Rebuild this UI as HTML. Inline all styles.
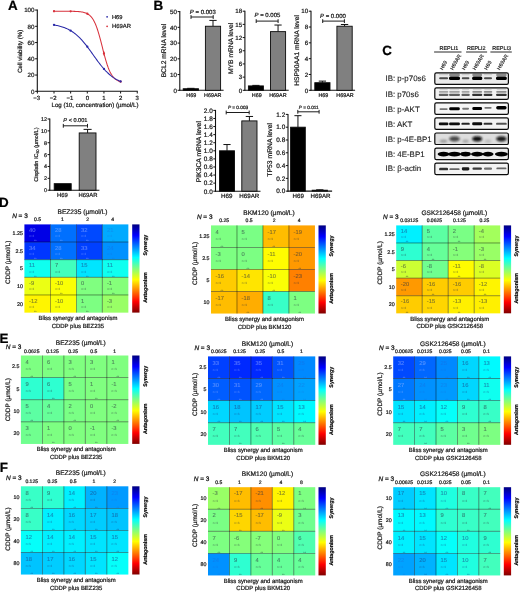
<!DOCTYPE html>
<html lang="en"><head><meta charset="utf-8"><title>Figure</title>
<style>html,body{margin:0;padding:0;background:#fff}svg{display:block;filter:blur(0.35px)}</style>
</head><body>
<svg width="520" height="592" viewBox="0 0 520 592" font-family='"Liberation Sans", sans-serif' fill="#1a1a1a" text-rendering="geometricPrecision">
<defs>
<linearGradient id="jet" x1="0" y1="0" x2="0" y2="1"><stop offset="0.0000" stop-color="#000080"/><stop offset="0.0312" stop-color="#00009f"/><stop offset="0.0625" stop-color="#0000bf"/><stop offset="0.0938" stop-color="#0000df"/><stop offset="0.1250" stop-color="#0000ff"/><stop offset="0.1562" stop-color="#0020ff"/><stop offset="0.1875" stop-color="#0040ff"/><stop offset="0.2188" stop-color="#0060ff"/><stop offset="0.2500" stop-color="#0080ff"/><stop offset="0.2812" stop-color="#009fff"/><stop offset="0.3125" stop-color="#00bfff"/><stop offset="0.3438" stop-color="#00dfff"/><stop offset="0.3750" stop-color="#00ffff"/><stop offset="0.4062" stop-color="#20ffdf"/><stop offset="0.4375" stop-color="#40ffbf"/><stop offset="0.4688" stop-color="#60ff9f"/><stop offset="0.5000" stop-color="#80ff80"/><stop offset="0.5312" stop-color="#9fff60"/><stop offset="0.5625" stop-color="#bfff40"/><stop offset="0.5938" stop-color="#dfff20"/><stop offset="0.6250" stop-color="#ffff00"/><stop offset="0.6562" stop-color="#ffdf00"/><stop offset="0.6875" stop-color="#ffbf00"/><stop offset="0.7188" stop-color="#ff9f00"/><stop offset="0.7500" stop-color="#ff8000"/><stop offset="0.7812" stop-color="#ff6000"/><stop offset="0.8125" stop-color="#ff4000"/><stop offset="0.8438" stop-color="#ff2000"/><stop offset="0.8750" stop-color="#ff0000"/><stop offset="0.9062" stop-color="#df0000"/><stop offset="0.9375" stop-color="#bf0000"/><stop offset="0.9688" stop-color="#9f0000"/><stop offset="1.0000" stop-color="#800000"/></linearGradient>
<filter id="b1" x="-30%" y="-80%" width="160%" height="260%"><feGaussianBlur stdDeviation="0.7 0.45"/></filter>
<filter id="b2" x="-30%" y="-80%" width="160%" height="260%"><feGaussianBlur stdDeviation="1.0 0.8"/></filter>
<filter id="b0" x="-30%" y="-80%" width="160%" height="260%"><feGaussianBlur stdDeviation="0.5 0.3"/></filter>
</defs>
<rect x="0.00" y="0.00" width="520.00" height="592.00" fill="#ffffff" />
<text x="8.00" y="5.50" font-size="13.4" fill="#000" font-weight="bold" dy="4.82" stroke="#000" stroke-width="0.22">A</text>
<text x="153.60" y="5.50" font-size="13.4" fill="#000" font-weight="bold" dy="4.82" stroke="#000" stroke-width="0.22">B</text>
<text x="382.20" y="50.60" font-size="13.4" fill="#000" font-weight="bold" dy="4.82" stroke="#000" stroke-width="0.22">C</text>
<text x="-0.90" y="201.80" font-size="13.4" fill="#000" font-weight="bold" dy="4.82" stroke="#000" stroke-width="0.22">D</text>
<text x="-0.40" y="337.70" font-size="13.4" fill="#000" font-weight="bold" dy="4.82" stroke="#000" stroke-width="0.22">E</text>
<text x="-0.20" y="467.10" font-size="13.4" fill="#000" font-weight="bold" dy="4.82" stroke="#000" stroke-width="0.22">F</text>
<line x1="37.30" y1="9.55" x2="37.30" y2="91.80" stroke="#111" stroke-width="1.1" />
<line x1="36.80" y1="91.30" x2="137.75" y2="91.30" stroke="#111" stroke-width="1.1" />
<line x1="35.10" y1="91.30" x2="37.30" y2="91.30" stroke="#111" stroke-width="1.0" />
<text x="34.50" y="91.30" font-size="6.2" text-anchor="end" dy="2.23" stroke="#1a1a1a" stroke-width="0.22">0</text>
<line x1="35.10" y1="75.05" x2="37.30" y2="75.05" stroke="#111" stroke-width="1.0" />
<text x="34.50" y="75.05" font-size="6.2" text-anchor="end" dy="2.23" stroke="#1a1a1a" stroke-width="0.22">20</text>
<line x1="35.10" y1="58.80" x2="37.30" y2="58.80" stroke="#111" stroke-width="1.0" />
<text x="34.50" y="58.80" font-size="6.2" text-anchor="end" dy="2.23" stroke="#1a1a1a" stroke-width="0.22">40</text>
<line x1="35.10" y1="42.55" x2="37.30" y2="42.55" stroke="#111" stroke-width="1.0" />
<text x="34.50" y="42.55" font-size="6.2" text-anchor="end" dy="2.23" stroke="#1a1a1a" stroke-width="0.22">60</text>
<line x1="35.10" y1="26.30" x2="37.30" y2="26.30" stroke="#111" stroke-width="1.0" />
<text x="34.50" y="26.30" font-size="6.2" text-anchor="end" dy="2.23" stroke="#1a1a1a" stroke-width="0.22">80</text>
<line x1="35.10" y1="10.05" x2="37.30" y2="10.05" stroke="#111" stroke-width="1.0" />
<text x="34.50" y="10.05" font-size="6.2" text-anchor="end" dy="2.23" stroke="#1a1a1a" stroke-width="0.22">100</text>
<line x1="37.35" y1="91.30" x2="37.35" y2="93.50" stroke="#111" stroke-width="1.0" />
<text x="36.55" y="98.10" font-size="6.0" text-anchor="middle" dy="2.16" stroke="#1a1a1a" stroke-width="0.22">−3</text>
<line x1="54.00" y1="91.30" x2="54.00" y2="93.50" stroke="#111" stroke-width="1.0" />
<text x="53.20" y="98.10" font-size="6.0" text-anchor="middle" dy="2.16" stroke="#1a1a1a" stroke-width="0.22">−2</text>
<line x1="70.65" y1="91.30" x2="70.65" y2="93.50" stroke="#111" stroke-width="1.0" />
<text x="69.85" y="98.10" font-size="6.0" text-anchor="middle" dy="2.16" stroke="#1a1a1a" stroke-width="0.22">−1</text>
<line x1="87.30" y1="91.30" x2="87.30" y2="93.50" stroke="#111" stroke-width="1.0" />
<text x="87.30" y="98.10" font-size="6.0" text-anchor="middle" dy="2.16" stroke="#1a1a1a" stroke-width="0.22">0</text>
<line x1="103.95" y1="91.30" x2="103.95" y2="93.50" stroke="#111" stroke-width="1.0" />
<text x="103.95" y="98.10" font-size="6.0" text-anchor="middle" dy="2.16" stroke="#1a1a1a" stroke-width="0.22">1</text>
<line x1="120.60" y1="91.30" x2="120.60" y2="93.50" stroke="#111" stroke-width="1.0" />
<text x="120.60" y="98.10" font-size="6.0" text-anchor="middle" dy="2.16" stroke="#1a1a1a" stroke-width="0.22">2</text>
<line x1="137.25" y1="91.30" x2="137.25" y2="93.50" stroke="#111" stroke-width="1.0" />
<text x="137.25" y="98.10" font-size="6.0" text-anchor="middle" dy="2.16" stroke="#1a1a1a" stroke-width="0.22">3</text>
<text x="19.40" y="51.30" font-size="6.05" text-anchor="middle" transform="rotate(-90 19.40 51.30)" dy="2.18" stroke="#1a1a1a" stroke-width="0.22">Cell viability (%)</text>
<text x="95.00" y="104.60" font-size="6.1" text-anchor="middle" dy="2.20" stroke="#1a1a1a" stroke-width="0.22">Log (10, concentration) (µmol/L)</text>
<polyline points="54.00,11.23 54.83,11.23 55.67,11.23 56.50,11.23 57.33,11.23 58.16,11.23 59.00,11.23 59.83,11.23 60.66,11.24 61.49,11.24 62.33,11.24 63.16,11.24 63.99,11.24 64.82,11.25 65.66,11.25 66.49,11.25 67.32,11.26 68.15,11.27 68.98,11.27 69.82,11.28 70.65,11.29 71.48,11.31 72.31,11.32 73.15,11.34 73.98,11.36 74.81,11.39 75.64,11.42 76.48,11.46 77.31,11.51 78.14,11.57 78.97,11.64 79.81,11.72 80.64,11.82 81.47,11.93 82.30,12.08 83.14,12.25 83.97,12.45 84.80,12.69 85.63,12.98 86.47,13.32 87.30,13.73 88.13,14.21 88.97,14.79 89.80,15.46 90.63,16.26 91.46,17.19 92.29,18.28 93.13,19.54 93.96,20.99 94.79,22.65 95.62,24.54 96.46,26.65 97.29,28.99 98.12,31.57 98.95,34.35 99.79,37.33 100.62,40.45 101.45,43.69 102.28,46.98 103.12,50.27 103.95,53.51 104.78,56.65 105.61,59.63 106.45,62.43 107.28,65.02 108.11,67.38 108.94,69.50 109.78,71.40 110.61,73.07 111.44,74.54 112.27,75.81 113.11,76.91 113.94,77.85 114.77,78.65 115.60,79.34 116.44,79.91 117.27,80.40 118.10,80.82 118.93,81.16 119.77,81.45 120.60,81.70" fill="none" stroke="#d8323c" stroke-width="1.05" stroke-linejoin="round"/>
<polyline points="54.00,24.96 54.83,25.11 55.67,25.26 56.50,25.42 57.33,25.60 58.16,25.78 59.00,25.98 59.83,26.20 60.66,26.42 61.49,26.67 62.33,26.93 63.16,27.21 63.99,27.50 64.82,27.82 65.66,28.15 66.49,28.51 67.32,28.89 68.15,29.29 68.98,29.72 69.82,30.17 70.65,30.65 71.48,31.16 72.31,31.70 73.15,32.27 73.98,32.86 74.81,33.49 75.64,34.15 76.48,34.84 77.31,35.57 78.14,36.33 78.97,37.12 79.81,37.94 80.64,38.80 81.47,39.69 82.30,40.61 83.14,41.57 83.97,42.55 84.80,43.56 85.63,44.60 86.47,45.66 87.30,46.75 88.13,47.85 88.97,48.98 89.80,50.12 90.63,51.27 91.46,52.43 92.29,53.60 93.13,54.77 93.96,55.94 94.79,57.11 95.62,58.27 96.46,59.43 97.29,60.57 98.12,61.69 98.95,62.80 99.79,63.89 100.62,64.96 101.45,66.00 102.28,67.01 103.12,67.99 103.95,68.95 104.78,69.87 105.61,70.77 106.45,71.63 107.28,72.46 108.11,73.25 108.94,74.01 109.78,74.74 110.61,75.43 111.44,76.10 112.27,76.73 113.11,77.33 113.94,77.89 114.77,78.43 115.60,78.94 116.44,79.43 117.27,79.88 118.10,80.31 118.93,80.72 119.77,81.10 120.60,81.46" fill="none" stroke="#2a2aa8" stroke-width="1.05" stroke-linejoin="round"/>
<circle cx="54.00" cy="11.23" r="1.15" fill="#d8323c"/>
<circle cx="54.00" cy="24.96" r="1.15" fill="#2a2aa8"/>
<circle cx="70.65" cy="11.29" r="1.15" fill="#d8323c"/>
<circle cx="70.65" cy="30.65" r="1.15" fill="#2a2aa8"/>
<circle cx="87.30" cy="13.73" r="1.15" fill="#d8323c"/>
<circle cx="87.30" cy="46.75" r="1.15" fill="#2a2aa8"/>
<circle cx="103.95" cy="53.51" r="1.15" fill="#d8323c"/>
<circle cx="103.95" cy="68.95" r="1.15" fill="#2a2aa8"/>
<circle cx="120.60" cy="81.70" r="1.15" fill="#d8323c"/>
<circle cx="120.60" cy="81.46" r="1.15" fill="#2a2aa8"/>
<line x1="103.95" y1="51.31" x2="103.95" y2="55.71" stroke="#d8323c" stroke-width="0.7" />
<circle cx="107.1" cy="16.8" r="0.9" fill="#2a2aa8"/>
<text x="112.00" y="16.80" font-size="5.7" dy="2.05" stroke="#1a1a1a" stroke-width="0.22">H69</text>
<circle cx="107.1" cy="26.3" r="0.9" fill="#d8323c"/>
<text x="112.00" y="26.30" font-size="5.9" dy="2.12" stroke="#1a1a1a" stroke-width="0.22">H69AR</text>
<line x1="49.80" y1="118.50" x2="49.80" y2="190.70" stroke="#111" stroke-width="1.1" />
<line x1="49.30" y1="190.20" x2="99.40" y2="190.20" stroke="#111" stroke-width="1.1" />
<line x1="47.60" y1="190.20" x2="49.80" y2="190.20" stroke="#111" stroke-width="1.0" />
<text x="47.00" y="190.20" font-size="5.4" text-anchor="end" dy="1.94" stroke="#1a1a1a" stroke-width="0.22">0</text>
<line x1="47.60" y1="178.33" x2="49.80" y2="178.33" stroke="#111" stroke-width="1.0" />
<text x="47.00" y="178.33" font-size="5.4" text-anchor="end" dy="1.94" stroke="#1a1a1a" stroke-width="0.22">2</text>
<line x1="47.60" y1="166.47" x2="49.80" y2="166.47" stroke="#111" stroke-width="1.0" />
<text x="47.00" y="166.47" font-size="5.4" text-anchor="end" dy="1.94" stroke="#1a1a1a" stroke-width="0.22">4</text>
<line x1="47.60" y1="154.60" x2="49.80" y2="154.60" stroke="#111" stroke-width="1.0" />
<text x="47.00" y="154.60" font-size="5.4" text-anchor="end" dy="1.94" stroke="#1a1a1a" stroke-width="0.22">6</text>
<line x1="47.60" y1="142.73" x2="49.80" y2="142.73" stroke="#111" stroke-width="1.0" />
<text x="47.00" y="142.73" font-size="5.4" text-anchor="end" dy="1.94" stroke="#1a1a1a" stroke-width="0.22">8</text>
<line x1="47.60" y1="130.87" x2="49.80" y2="130.87" stroke="#111" stroke-width="1.0" />
<text x="47.00" y="130.87" font-size="5.4" text-anchor="end" dy="1.94" stroke="#1a1a1a" stroke-width="0.22">10</text>
<line x1="47.60" y1="119.00" x2="49.80" y2="119.00" stroke="#111" stroke-width="1.0" />
<text x="47.00" y="119.00" font-size="5.4" text-anchor="end" dy="1.94" stroke="#1a1a1a" stroke-width="0.22">12</text>
<rect x="54.20" y="183.67" width="17.00" height="6.53" fill="#000" stroke="#0a0a0a" stroke-width="0.9" />
<line x1="87.60" y1="132.94" x2="87.60" y2="129.38" stroke="#111" stroke-width="1.0" />
<line x1="83.57" y1="129.38" x2="91.63" y2="129.38" stroke="#111" stroke-width="1.0" />
<rect x="79.20" y="132.94" width="16.80" height="57.26" fill="#808080" stroke="#0a0a0a" stroke-width="0.9" />
<text x="62.40" y="194.70" font-size="5.9" text-anchor="middle" dy="2.12" stroke="#1a1a1a" stroke-width="0.22">H69</text>
<text x="87.90" y="194.70" font-size="5.9" text-anchor="middle" dy="2.12" stroke="#1a1a1a" stroke-width="0.22">H69AR</text>
<text x="35.60" y="154.60" font-size="5.5" text-anchor="middle" transform="rotate(-90 35.60 154.60)" dy="1.98" stroke="#1a1a1a" stroke-width="0.22">Cisplatin IC<tspan font-size="3.8" dy="1.2">50</tspan><tspan dy="-1.2"> (µmol/L)</tspan></text>
<line x1="63.30" y1="125.80" x2="87.50" y2="125.80" stroke="#111" stroke-width="0.95" />
<line x1="63.30" y1="123.90" x2="63.30" y2="127.70" stroke="#111" stroke-width="0.95" />
<line x1="87.50" y1="123.90" x2="87.50" y2="127.70" stroke="#111" stroke-width="0.95" />
<text x="75.40" y="120.00" font-size="5.6" text-anchor="middle" dy="2.02" stroke="#1a1a1a" stroke-width="0.22"><tspan font-style="italic">P</tspan> &lt; 0.001</text>
<line x1="179.80" y1="11.10" x2="179.80" y2="90.80" stroke="#111" stroke-width="1.1" />
<line x1="179.30" y1="90.30" x2="223.60" y2="90.30" stroke="#111" stroke-width="1.1" />
<line x1="177.60" y1="90.30" x2="179.80" y2="90.30" stroke="#111" stroke-width="1.0" />
<text x="177.00" y="90.30" font-size="6.2" text-anchor="end" dy="2.23" stroke="#1a1a1a" stroke-width="0.22">0</text>
<line x1="177.60" y1="74.56" x2="179.80" y2="74.56" stroke="#111" stroke-width="1.0" />
<text x="177.00" y="74.56" font-size="6.2" text-anchor="end" dy="2.23" stroke="#1a1a1a" stroke-width="0.22">10</text>
<line x1="177.60" y1="58.82" x2="179.80" y2="58.82" stroke="#111" stroke-width="1.0" />
<text x="177.00" y="58.82" font-size="6.2" text-anchor="end" dy="2.23" stroke="#1a1a1a" stroke-width="0.22">20</text>
<line x1="177.60" y1="43.08" x2="179.80" y2="43.08" stroke="#111" stroke-width="1.0" />
<text x="177.00" y="43.08" font-size="6.2" text-anchor="end" dy="2.23" stroke="#1a1a1a" stroke-width="0.22">30</text>
<line x1="177.60" y1="27.34" x2="179.80" y2="27.34" stroke="#111" stroke-width="1.0" />
<text x="177.00" y="27.34" font-size="6.2" text-anchor="end" dy="2.23" stroke="#1a1a1a" stroke-width="0.22">40</text>
<line x1="177.60" y1="11.60" x2="179.80" y2="11.60" stroke="#111" stroke-width="1.0" />
<text x="177.00" y="11.60" font-size="6.2" text-anchor="end" dy="2.23" stroke="#1a1a1a" stroke-width="0.22">50</text>
<line x1="190.85" y1="88.73" x2="190.85" y2="88.33" stroke="#111" stroke-width="1.0" />
<line x1="187.18" y1="88.33" x2="194.52" y2="88.33" stroke="#111" stroke-width="1.0" />
<rect x="183.20" y="88.73" width="15.30" height="1.57" fill="#000" stroke="#0a0a0a" stroke-width="0.9" />
<line x1="213.00" y1="26.24" x2="213.00" y2="20.41" stroke="#111" stroke-width="1.0" />
<line x1="209.35" y1="20.41" x2="216.65" y2="20.41" stroke="#111" stroke-width="1.0" />
<rect x="205.40" y="26.24" width="15.20" height="64.06" fill="#808080" stroke="#0a0a0a" stroke-width="0.9" />
<text x="191.20" y="94.90" font-size="5.4" text-anchor="middle" dy="1.94" stroke="#1a1a1a" stroke-width="0.22">H69</text>
<text x="212.80" y="94.90" font-size="5.4" text-anchor="middle" dy="1.94" stroke="#1a1a1a" stroke-width="0.22">H69AR</text>
<text x="163.80" y="50.60" font-size="6.7" text-anchor="middle" transform="rotate(-90 163.80 50.60)" dy="2.41" stroke="#1a1a1a" stroke-width="0.22">BCL2 mRNA level</text>
<line x1="191.00" y1="17.00" x2="213.20" y2="17.00" stroke="#111" stroke-width="0.95" />
<line x1="191.00" y1="15.10" x2="191.00" y2="18.90" stroke="#111" stroke-width="0.95" />
<line x1="213.20" y1="15.10" x2="213.20" y2="18.90" stroke="#111" stroke-width="0.95" />
<text x="202.80" y="11.80" font-size="6.0" text-anchor="middle" dy="2.16" stroke="#1a1a1a" stroke-width="0.22"><tspan font-style="italic">P</tspan> = 0.003</text>
<line x1="244.90" y1="10.70" x2="244.90" y2="90.80" stroke="#111" stroke-width="1.1" />
<line x1="244.40" y1="90.30" x2="288.70" y2="90.30" stroke="#111" stroke-width="1.1" />
<line x1="242.70" y1="90.30" x2="244.90" y2="90.30" stroke="#111" stroke-width="1.0" />
<text x="242.10" y="90.30" font-size="6.2" text-anchor="end" dy="2.23" stroke="#1a1a1a" stroke-width="0.22">0</text>
<line x1="242.70" y1="77.12" x2="244.90" y2="77.12" stroke="#111" stroke-width="1.0" />
<text x="242.10" y="77.12" font-size="6.2" text-anchor="end" dy="2.23" stroke="#1a1a1a" stroke-width="0.22">3</text>
<line x1="242.70" y1="63.93" x2="244.90" y2="63.93" stroke="#111" stroke-width="1.0" />
<text x="242.10" y="63.93" font-size="6.2" text-anchor="end" dy="2.23" stroke="#1a1a1a" stroke-width="0.22">6</text>
<line x1="242.70" y1="50.75" x2="244.90" y2="50.75" stroke="#111" stroke-width="1.0" />
<text x="242.10" y="50.75" font-size="6.2" text-anchor="end" dy="2.23" stroke="#1a1a1a" stroke-width="0.22">9</text>
<line x1="242.70" y1="37.57" x2="244.90" y2="37.57" stroke="#111" stroke-width="1.0" />
<text x="242.10" y="37.57" font-size="6.2" text-anchor="end" dy="2.23" stroke="#1a1a1a" stroke-width="0.22">12</text>
<line x1="242.70" y1="24.38" x2="244.90" y2="24.38" stroke="#111" stroke-width="1.0" />
<text x="242.10" y="24.38" font-size="6.2" text-anchor="end" dy="2.23" stroke="#1a1a1a" stroke-width="0.22">15</text>
<line x1="242.70" y1="11.20" x2="244.90" y2="11.20" stroke="#111" stroke-width="1.0" />
<text x="242.10" y="11.20" font-size="6.2" text-anchor="end" dy="2.23" stroke="#1a1a1a" stroke-width="0.22">18</text>
<line x1="255.90" y1="85.91" x2="255.90" y2="85.38" stroke="#111" stroke-width="1.0" />
<line x1="252.30" y1="85.38" x2="259.50" y2="85.38" stroke="#111" stroke-width="1.0" />
<rect x="248.40" y="85.91" width="15.00" height="4.39" fill="#000" stroke="#0a0a0a" stroke-width="0.9" />
<line x1="278.05" y1="31.63" x2="278.05" y2="25.04" stroke="#111" stroke-width="1.0" />
<line x1="274.43" y1="25.04" x2="281.67" y2="25.04" stroke="#111" stroke-width="1.0" />
<rect x="270.50" y="31.63" width="15.10" height="58.67" fill="#808080" stroke="#0a0a0a" stroke-width="0.9" />
<text x="256.70" y="94.90" font-size="5.4" text-anchor="middle" dy="1.94" stroke="#1a1a1a" stroke-width="0.22">H69</text>
<text x="277.90" y="94.90" font-size="5.4" text-anchor="middle" dy="1.94" stroke="#1a1a1a" stroke-width="0.22">H69AR</text>
<text x="231.00" y="48.30" font-size="6.7" text-anchor="middle" transform="rotate(-90 231.00 48.30)" dy="2.41" stroke="#1a1a1a" stroke-width="0.22">MYB mRNA level</text>
<line x1="256.20" y1="21.10" x2="278.10" y2="21.10" stroke="#111" stroke-width="0.95" />
<line x1="256.20" y1="19.20" x2="256.20" y2="23.00" stroke="#111" stroke-width="0.95" />
<line x1="278.10" y1="19.20" x2="278.10" y2="23.00" stroke="#111" stroke-width="0.95" />
<text x="267.40" y="14.70" font-size="6.0" text-anchor="middle" dy="2.16" stroke="#1a1a1a" stroke-width="0.22"><tspan font-style="italic">P</tspan> = 0.005</text>
<line x1="311.00" y1="10.70" x2="311.00" y2="90.80" stroke="#111" stroke-width="1.1" />
<line x1="310.50" y1="90.30" x2="355.10" y2="90.30" stroke="#111" stroke-width="1.1" />
<line x1="308.80" y1="90.30" x2="311.00" y2="90.30" stroke="#111" stroke-width="1.0" />
<text x="308.20" y="90.30" font-size="6.2" text-anchor="end" dy="2.23" stroke="#1a1a1a" stroke-width="0.22">0</text>
<line x1="308.80" y1="74.48" x2="311.00" y2="74.48" stroke="#111" stroke-width="1.0" />
<text x="308.20" y="74.48" font-size="6.2" text-anchor="end" dy="2.23" stroke="#1a1a1a" stroke-width="0.22">2</text>
<line x1="308.80" y1="58.66" x2="311.00" y2="58.66" stroke="#111" stroke-width="1.0" />
<text x="308.20" y="58.66" font-size="6.2" text-anchor="end" dy="2.23" stroke="#1a1a1a" stroke-width="0.22">4</text>
<line x1="308.80" y1="42.84" x2="311.00" y2="42.84" stroke="#111" stroke-width="1.0" />
<text x="308.20" y="42.84" font-size="6.2" text-anchor="end" dy="2.23" stroke="#1a1a1a" stroke-width="0.22">6</text>
<line x1="308.80" y1="27.02" x2="311.00" y2="27.02" stroke="#111" stroke-width="1.0" />
<text x="308.20" y="27.02" font-size="6.2" text-anchor="end" dy="2.23" stroke="#1a1a1a" stroke-width="0.22">8</text>
<line x1="308.80" y1="11.20" x2="311.00" y2="11.20" stroke="#111" stroke-width="1.0" />
<text x="308.20" y="11.20" font-size="6.2" text-anchor="end" dy="2.23" stroke="#1a1a1a" stroke-width="0.22">10</text>
<line x1="322.40" y1="82.71" x2="322.40" y2="81.12" stroke="#111" stroke-width="1.0" />
<line x1="318.75" y1="81.12" x2="326.05" y2="81.12" stroke="#111" stroke-width="1.0" />
<rect x="314.80" y="82.71" width="15.20" height="7.59" fill="#000" stroke="#0a0a0a" stroke-width="0.9" />
<line x1="344.55" y1="26.23" x2="344.55" y2="24.49" stroke="#111" stroke-width="1.0" />
<line x1="340.88" y1="24.49" x2="348.22" y2="24.49" stroke="#111" stroke-width="1.0" />
<rect x="336.90" y="26.23" width="15.30" height="64.07" fill="#808080" stroke="#0a0a0a" stroke-width="0.9" />
<text x="323.40" y="94.90" font-size="5.4" text-anchor="middle" dy="1.94" stroke="#1a1a1a" stroke-width="0.22">H69</text>
<text x="345.00" y="94.90" font-size="5.4" text-anchor="middle" dy="1.94" stroke="#1a1a1a" stroke-width="0.22">H69AR</text>
<text x="297.10" y="50.40" font-size="6.7" text-anchor="middle" transform="rotate(-90 297.10 50.40)" dy="2.41" stroke="#1a1a1a" stroke-width="0.22">HSP90AA1 mRNA level</text>
<line x1="322.70" y1="21.10" x2="344.40" y2="21.10" stroke="#111" stroke-width="0.95" />
<line x1="322.70" y1="19.20" x2="322.70" y2="23.00" stroke="#111" stroke-width="0.95" />
<line x1="344.40" y1="19.20" x2="344.40" y2="23.00" stroke="#111" stroke-width="0.95" />
<text x="332.90" y="15.60" font-size="6.0" text-anchor="middle" dy="2.16" stroke="#1a1a1a" stroke-width="0.22"><tspan font-style="italic">P</tspan> = 0.000</text>
<line x1="215.50" y1="109.90" x2="215.50" y2="191.70" stroke="#111" stroke-width="1.1" />
<line x1="215.00" y1="191.20" x2="260.50" y2="191.20" stroke="#111" stroke-width="1.1" />
<line x1="213.30" y1="191.20" x2="215.50" y2="191.20" stroke="#111" stroke-width="1.0" />
<text x="212.70" y="191.20" font-size="6.4" text-anchor="end" dy="2.30" stroke="#1a1a1a" stroke-width="0.22">0.0</text>
<line x1="213.30" y1="183.12" x2="215.50" y2="183.12" stroke="#111" stroke-width="1.0" />
<text x="212.70" y="183.12" font-size="6.4" text-anchor="end" dy="2.30" stroke="#1a1a1a" stroke-width="0.22">0.2</text>
<line x1="213.30" y1="175.04" x2="215.50" y2="175.04" stroke="#111" stroke-width="1.0" />
<text x="212.70" y="175.04" font-size="6.4" text-anchor="end" dy="2.30" stroke="#1a1a1a" stroke-width="0.22">0.4</text>
<line x1="213.30" y1="166.96" x2="215.50" y2="166.96" stroke="#111" stroke-width="1.0" />
<text x="212.70" y="166.96" font-size="6.4" text-anchor="end" dy="2.30" stroke="#1a1a1a" stroke-width="0.22">0.6</text>
<line x1="213.30" y1="158.88" x2="215.50" y2="158.88" stroke="#111" stroke-width="1.0" />
<text x="212.70" y="158.88" font-size="6.4" text-anchor="end" dy="2.30" stroke="#1a1a1a" stroke-width="0.22">0.8</text>
<line x1="213.30" y1="150.80" x2="215.50" y2="150.80" stroke="#111" stroke-width="1.0" />
<text x="212.70" y="150.80" font-size="6.4" text-anchor="end" dy="2.30" stroke="#1a1a1a" stroke-width="0.22">1.0</text>
<line x1="213.30" y1="142.72" x2="215.50" y2="142.72" stroke="#111" stroke-width="1.0" />
<text x="212.70" y="142.72" font-size="6.4" text-anchor="end" dy="2.30" stroke="#1a1a1a" stroke-width="0.22">1.2</text>
<line x1="213.30" y1="134.64" x2="215.50" y2="134.64" stroke="#111" stroke-width="1.0" />
<text x="212.70" y="134.64" font-size="6.4" text-anchor="end" dy="2.30" stroke="#1a1a1a" stroke-width="0.22">1.4</text>
<line x1="213.30" y1="126.56" x2="215.50" y2="126.56" stroke="#111" stroke-width="1.0" />
<text x="212.70" y="126.56" font-size="6.4" text-anchor="end" dy="2.30" stroke="#1a1a1a" stroke-width="0.22">1.6</text>
<line x1="213.30" y1="118.48" x2="215.50" y2="118.48" stroke="#111" stroke-width="1.0" />
<text x="212.70" y="118.48" font-size="6.4" text-anchor="end" dy="2.30" stroke="#1a1a1a" stroke-width="0.22">1.8</text>
<line x1="213.30" y1="110.40" x2="215.50" y2="110.40" stroke="#111" stroke-width="1.0" />
<text x="212.70" y="110.40" font-size="6.4" text-anchor="end" dy="2.30" stroke="#1a1a1a" stroke-width="0.22">2.0</text>
<line x1="227.00" y1="150.80" x2="227.00" y2="144.54" stroke="#111" stroke-width="1.0" />
<line x1="223.40" y1="144.54" x2="230.60" y2="144.54" stroke="#111" stroke-width="1.0" />
<rect x="219.50" y="150.80" width="15.00" height="40.40" fill="#000" stroke="#0a0a0a" stroke-width="0.9" />
<line x1="249.40" y1="120.90" x2="249.40" y2="116.46" stroke="#111" stroke-width="1.0" />
<line x1="245.75" y1="116.46" x2="253.05" y2="116.46" stroke="#111" stroke-width="1.0" />
<rect x="241.80" y="120.90" width="15.20" height="70.30" fill="#808080" stroke="#0a0a0a" stroke-width="0.9" />
<text x="226.80" y="195.80" font-size="6.2" text-anchor="middle" dy="2.23" stroke="#1a1a1a" stroke-width="0.22">H69</text>
<text x="249.30" y="195.80" font-size="6.2" text-anchor="middle" dy="2.23" stroke="#1a1a1a" stroke-width="0.22">H69AR</text>
<text x="198.20" y="151.70" font-size="6.8" text-anchor="middle" transform="rotate(-90 198.20 151.70)" dy="2.45" stroke="#1a1a1a" stroke-width="0.22">PIK3CA mRNA level</text>
<line x1="226.20" y1="112.50" x2="249.20" y2="112.50" stroke="#111" stroke-width="0.95" />
<line x1="226.20" y1="110.60" x2="226.20" y2="114.40" stroke="#111" stroke-width="0.95" />
<line x1="249.20" y1="110.60" x2="249.20" y2="114.40" stroke="#111" stroke-width="0.95" />
<text x="238.00" y="107.80" font-size="4.7" text-anchor="middle" dy="1.69" stroke="#1a1a1a" stroke-width="0.22"><tspan font-style="italic">P</tspan> = 0.003</text>
<line x1="288.00" y1="113.90" x2="288.00" y2="191.65" stroke="#111" stroke-width="1.1" />
<line x1="287.50" y1="191.15" x2="332.10" y2="191.15" stroke="#111" stroke-width="1.1" />
<line x1="285.80" y1="191.15" x2="288.00" y2="191.15" stroke="#111" stroke-width="1.0" />
<text x="285.20" y="191.15" font-size="6.4" text-anchor="end" dy="2.30" stroke="#1a1a1a" stroke-width="0.22">0.0</text>
<line x1="285.80" y1="178.36" x2="288.00" y2="178.36" stroke="#111" stroke-width="1.0" />
<text x="285.20" y="178.36" font-size="6.4" text-anchor="end" dy="2.30" stroke="#1a1a1a" stroke-width="0.22">0.2</text>
<line x1="285.80" y1="165.57" x2="288.00" y2="165.57" stroke="#111" stroke-width="1.0" />
<text x="285.20" y="165.57" font-size="6.4" text-anchor="end" dy="2.30" stroke="#1a1a1a" stroke-width="0.22">0.4</text>
<line x1="285.80" y1="152.78" x2="288.00" y2="152.78" stroke="#111" stroke-width="1.0" />
<text x="285.20" y="152.78" font-size="6.4" text-anchor="end" dy="2.30" stroke="#1a1a1a" stroke-width="0.22">0.6</text>
<line x1="285.80" y1="139.98" x2="288.00" y2="139.98" stroke="#111" stroke-width="1.0" />
<text x="285.20" y="139.98" font-size="6.4" text-anchor="end" dy="2.30" stroke="#1a1a1a" stroke-width="0.22">0.8</text>
<line x1="285.80" y1="127.19" x2="288.00" y2="127.19" stroke="#111" stroke-width="1.0" />
<text x="285.20" y="127.19" font-size="6.4" text-anchor="end" dy="2.30" stroke="#1a1a1a" stroke-width="0.22">1.0</text>
<line x1="285.80" y1="114.40" x2="288.00" y2="114.40" stroke="#111" stroke-width="1.0" />
<text x="285.20" y="114.40" font-size="6.4" text-anchor="end" dy="2.30" stroke="#1a1a1a" stroke-width="0.22">1.2</text>
<line x1="297.95" y1="127.19" x2="297.95" y2="115.68" stroke="#111" stroke-width="1.0" />
<line x1="294.42" y1="115.68" x2="301.48" y2="115.68" stroke="#111" stroke-width="1.0" />
<rect x="290.60" y="127.19" width="14.70" height="63.96" fill="#000" stroke="#0a0a0a" stroke-width="0.9" />
<line x1="319.80" y1="190.19" x2="319.80" y2="189.81" stroke="#111" stroke-width="1.0" />
<line x1="316.15" y1="189.81" x2="323.45" y2="189.81" stroke="#111" stroke-width="1.0" />
<rect x="312.20" y="190.19" width="15.20" height="0.96" fill="#808080" stroke="#0a0a0a" stroke-width="0.9" />
<text x="298.30" y="195.80" font-size="6.2" text-anchor="middle" dy="2.23" stroke="#1a1a1a" stroke-width="0.22">H69</text>
<text x="320.60" y="195.80" font-size="6.2" text-anchor="middle" dy="2.23" stroke="#1a1a1a" stroke-width="0.22">H69AR</text>
<text x="269.80" y="149.80" font-size="6.8" text-anchor="middle" transform="rotate(-90 269.80 149.80)" dy="2.45" stroke="#1a1a1a" stroke-width="0.22">TP53 mRNA level</text>
<line x1="297.80" y1="111.80" x2="319.10" y2="111.80" stroke="#111" stroke-width="0.95" />
<line x1="297.80" y1="109.90" x2="297.80" y2="113.70" stroke="#111" stroke-width="0.95" />
<line x1="319.10" y1="109.90" x2="319.10" y2="113.70" stroke="#111" stroke-width="0.95" />
<text x="308.70" y="107.80" font-size="4.7" text-anchor="middle" dy="1.69" stroke="#1a1a1a" stroke-width="0.22"><tspan font-style="italic">P</tspan> = 0.011</text>
<text x="448.90" y="48.40" font-size="5.4" text-anchor="middle" fill="#151515" dy="1.94" stroke="#151515" stroke-width="0.2">REPLI1</text>
<line x1="434.10" y1="52.00" x2="461.50" y2="52.00" stroke="#111" stroke-width="0.9" />
<text x="476.30" y="48.40" font-size="5.4" text-anchor="middle" fill="#151515" dy="1.94" stroke="#151515" stroke-width="0.2">REPLI2</text>
<line x1="466.10" y1="52.00" x2="487.10" y2="52.00" stroke="#111" stroke-width="0.9" />
<text x="501.60" y="48.40" font-size="5.4" text-anchor="middle" fill="#151515" dy="1.94" stroke="#151515" stroke-width="0.2">REPLI3</text>
<line x1="490.40" y1="52.00" x2="511.80" y2="52.00" stroke="#111" stroke-width="0.9" />
<text x="442.70" y="70.4" font-size="5.3" fill="#111" stroke="#111" stroke-width="0.12" transform="rotate(-60 442.70 70.4)">H69</text>
<text x="452.90" y="70.4" font-size="5.3" fill="#111" stroke="#111" stroke-width="0.12" transform="rotate(-60 452.90 70.4)">H69AR</text>
<text x="464.70" y="70.4" font-size="5.3" fill="#111" stroke="#111" stroke-width="0.12" transform="rotate(-60 464.70 70.4)">H69</text>
<text x="475.60" y="70.4" font-size="5.3" fill="#111" stroke="#111" stroke-width="0.12" transform="rotate(-60 475.60 70.4)">H69AR</text>
<text x="487.10" y="70.4" font-size="5.3" fill="#111" stroke="#111" stroke-width="0.12" transform="rotate(-60 487.10 70.4)">H69</text>
<text x="499.80" y="70.4" font-size="5.3" fill="#111" stroke="#111" stroke-width="0.12" transform="rotate(-60 499.80 70.4)">H69AR</text>
<text x="385.50" y="78.20" font-size="7.9" fill="#242424" dy="2.84" stroke="#242424" stroke-width="0.12">IB: p-p70s6</text>
<clipPath id="cp0"><rect x="434.8" y="72.8" width="73.60" height="11.5" rx="1.6"/></clipPath>
<rect x="434.80" y="72.80" width="73.60" height="11.50" fill="#ebebeb" rx="1.6"/>
<g clip-path="url(#cp0)">
<rect x="438.95" y="73.75" width="9.30" height="1.60" rx="0.73" fill="#999" opacity="0.35" filter="url(#b1)"/>
<rect x="439.15" y="77.20" width="8.90" height="2.10" rx="0.95" fill="#2e2e2e" opacity="0.85" filter="url(#b1)"/>
<rect x="449.20" y="73.45" width="10.60" height="2.80" rx="1.27" fill="#4a4a4a" opacity="0.6" filter="url(#b1)"/>
<rect x="449.00" y="76.55" width="11.00" height="3.40" rx="1.55" fill="#050505" opacity="1.0" filter="url(#b1)"/>
<rect x="461.60" y="73.75" width="8.00" height="1.60" rx="0.73" fill="#999" opacity="0.35" filter="url(#b1)"/>
<rect x="461.80" y="77.20" width="7.60" height="2.10" rx="0.95" fill="#2e2e2e" opacity="0.85" filter="url(#b1)"/>
<rect x="472.30" y="73.45" width="9.80" height="2.80" rx="1.27" fill="#4a4a4a" opacity="0.6" filter="url(#b1)"/>
<rect x="472.10" y="76.55" width="10.20" height="3.40" rx="1.55" fill="#050505" opacity="1.0" filter="url(#b1)"/>
<rect x="483.80" y="73.75" width="8.40" height="1.60" rx="0.73" fill="#999" opacity="0.35" filter="url(#b1)"/>
<rect x="484.00" y="77.20" width="8.00" height="2.10" rx="0.95" fill="#2e2e2e" opacity="0.85" filter="url(#b1)"/>
<rect x="496.20" y="73.45" width="10.40" height="2.80" rx="1.27" fill="#4a4a4a" opacity="0.6" filter="url(#b1)"/>
<rect x="496.00" y="76.55" width="10.80" height="3.40" rx="1.55" fill="#050505" opacity="1.0" filter="url(#b1)"/>
</g>
<rect x="434.80" y="72.80" width="73.60" height="11.50" fill="none" stroke="#0a0a0a" stroke-width="1.2" rx="1.6"/>
<text x="385.50" y="93.80" font-size="7.9" fill="#242424" dy="2.84" stroke="#242424" stroke-width="0.12">IB: p70s6</text>
<clipPath id="cp1"><rect x="434.8" y="87.85" width="73.60" height="11.5" rx="1.6"/></clipPath>
<rect x="434.80" y="87.85" width="73.60" height="11.50" fill="#f1f1f1" rx="1.6"/>
<g clip-path="url(#cp1)">
<rect x="438.95" y="91.00" width="9.30" height="1.80" rx="0.82" fill="#555" opacity="0.48999999999999994" filter="url(#b1)"/>
<rect x="438.80" y="93.80" width="9.60" height="2.20" rx="1.00" fill="#222" opacity="0.7" filter="url(#b1)"/>
<rect x="439.45" y="89.00" width="8.30" height="1.20" rx="0.55" fill="#999" opacity="0.3" filter="url(#b1)"/>
<rect x="449.20" y="91.00" width="10.60" height="1.80" rx="0.82" fill="#555" opacity="0.48999999999999994" filter="url(#b1)"/>
<rect x="449.05" y="93.80" width="10.90" height="2.20" rx="1.00" fill="#222" opacity="0.7" filter="url(#b1)"/>
<rect x="449.70" y="89.00" width="9.60" height="1.20" rx="0.55" fill="#999" opacity="0.3" filter="url(#b1)"/>
<rect x="461.60" y="91.00" width="8.00" height="1.80" rx="0.82" fill="#555" opacity="0.48999999999999994" filter="url(#b1)"/>
<rect x="461.45" y="93.80" width="8.30" height="2.20" rx="1.00" fill="#222" opacity="0.7" filter="url(#b1)"/>
<rect x="462.10" y="89.00" width="7.00" height="1.20" rx="0.55" fill="#999" opacity="0.3" filter="url(#b1)"/>
<rect x="472.30" y="91.00" width="9.80" height="1.80" rx="0.82" fill="#555" opacity="0.644" filter="url(#b1)"/>
<rect x="472.15" y="93.80" width="10.10" height="2.20" rx="1.00" fill="#222" opacity="0.92" filter="url(#b1)"/>
<rect x="472.80" y="89.00" width="8.80" height="1.20" rx="0.55" fill="#999" opacity="0.3" filter="url(#b1)"/>
<rect x="483.80" y="91.00" width="8.40" height="1.80" rx="0.82" fill="#555" opacity="0.644" filter="url(#b1)"/>
<rect x="483.65" y="93.80" width="8.70" height="2.20" rx="1.00" fill="#222" opacity="0.92" filter="url(#b1)"/>
<rect x="484.30" y="89.00" width="7.40" height="1.20" rx="0.55" fill="#999" opacity="0.3" filter="url(#b1)"/>
<rect x="496.20" y="91.00" width="10.40" height="1.80" rx="0.82" fill="#555" opacity="0.644" filter="url(#b1)"/>
<rect x="496.05" y="93.80" width="10.70" height="2.20" rx="1.00" fill="#222" opacity="0.92" filter="url(#b1)"/>
<rect x="496.70" y="89.00" width="9.40" height="1.20" rx="0.55" fill="#999" opacity="0.3" filter="url(#b1)"/>
</g>
<rect x="434.80" y="87.85" width="73.60" height="11.50" fill="none" stroke="#0a0a0a" stroke-width="1.2" rx="1.6"/>
<text x="385.50" y="109.30" font-size="7.9" fill="#242424" dy="2.84" stroke="#242424" stroke-width="0.12">IB: p-AKT</text>
<clipPath id="cp2"><rect x="434.8" y="102.9" width="73.60" height="11.5" rx="1.6"/></clipPath>
<rect x="434.80" y="102.90" width="73.60" height="11.50" fill="#f6f6f6" rx="1.6"/>
<g clip-path="url(#cp2)">
<rect x="439.55" y="108.15" width="8.10" height="1.80" rx="0.82" fill="#444" opacity="0.72" filter="url(#b1)"/>
<rect x="449.20" y="107.25" width="10.60" height="3.00" rx="1.36" fill="#050505" opacity="1.0" filter="url(#b1)"/>
<rect x="462.20" y="107.85" width="6.80" height="1.80" rx="0.82" fill="#444" opacity="0.72" filter="url(#b1)"/>
<rect x="472.30" y="107.05" width="9.80" height="3.00" rx="1.36" fill="#050505" opacity="1.0" filter="url(#b1)"/>
<rect x="484.40" y="106.95" width="7.20" height="1.80" rx="0.82" fill="#444" opacity="0.72" filter="url(#b1)"/>
<rect x="496.20" y="105.90" width="10.40" height="3.50" rx="1.59" fill="#050505" opacity="1.0" filter="url(#b1)"/>
</g>
<rect x="434.80" y="102.90" width="73.60" height="11.50" fill="none" stroke="#0a0a0a" stroke-width="1.2" rx="1.6"/>
<text x="385.50" y="124.10" font-size="7.9" fill="#242424" dy="2.84" stroke="#242424" stroke-width="0.12">IB: AKT</text>
<clipPath id="cp3"><rect x="434.8" y="117.95" width="73.60" height="11.5" rx="1.6"/></clipPath>
<rect x="434.80" y="117.95" width="73.60" height="11.50" fill="#f3f3f3" rx="1.6"/>
<g clip-path="url(#cp3)">
<rect x="438.80" y="122.55" width="9.60" height="2.60" rx="1.18" fill="#0c0c0c" opacity="1.0" filter="url(#b1)"/>
<rect x="449.05" y="122.45" width="10.90" height="2.80" rx="1.27" fill="#0c0c0c" opacity="1.0" filter="url(#b1)"/>
<rect x="461.45" y="122.85" width="8.30" height="2.00" rx="0.91" fill="#0c0c0c" opacity="0.9" filter="url(#b1)"/>
<rect x="472.15" y="122.35" width="10.10" height="3.00" rx="1.36" fill="#0c0c0c" opacity="1.0" filter="url(#b1)"/>
<rect x="483.65" y="122.85" width="8.70" height="2.00" rx="0.91" fill="#0c0c0c" opacity="0.85" filter="url(#b1)"/>
<rect x="496.05" y="122.85" width="10.70" height="2.00" rx="0.91" fill="#0c0c0c" opacity="0.7" filter="url(#b1)"/>
</g>
<rect x="434.80" y="117.95" width="73.60" height="11.50" fill="none" stroke="#0a0a0a" stroke-width="1.2" rx="1.6"/>
<text x="385.50" y="139.10" font-size="7.9" fill="#242424" dy="2.84" stroke="#242424" stroke-width="0.12">IB: p-4E-BP1</text>
<clipPath id="cp4"><rect x="434.8" y="133.0" width="73.60" height="11.5" rx="1.6"/></clipPath>
<rect x="434.80" y="133.00" width="73.60" height="11.50" fill="#dedede" rx="1.6"/>
<g clip-path="url(#cp4)">
<ellipse cx="443.60" cy="141.05" rx="3.90" ry="1.60" fill="#555" opacity="0.5" filter="url(#b2)"/>
<ellipse cx="454.50" cy="138.85" rx="5.30" ry="2.70" fill="#0c0c0c" opacity="0.72" filter="url(#b2)"/>
<ellipse cx="465.60" cy="141.05" rx="3.25" ry="1.60" fill="#555" opacity="0.42" filter="url(#b2)"/>
<ellipse cx="477.20" cy="138.85" rx="4.90" ry="2.70" fill="#0c0c0c" opacity="1.0" filter="url(#b2)"/>
<ellipse cx="488.00" cy="141.05" rx="3.45" ry="1.60" fill="#555" opacity="0.25" filter="url(#b2)"/>
<ellipse cx="501.40" cy="138.85" rx="5.20" ry="2.70" fill="#0c0c0c" opacity="0.95" filter="url(#b2)"/>
</g>
<rect x="434.80" y="133.00" width="73.60" height="11.50" fill="none" stroke="#0a0a0a" stroke-width="1.2" rx="1.6"/>
<text x="385.50" y="154.50" font-size="7.9" fill="#242424" dy="2.84" stroke="#242424" stroke-width="0.12">IB: 4E-BP1</text>
<clipPath id="cp5"><rect x="434.8" y="148.05" width="73.60" height="11.5" rx="1.6"/></clipPath>
<rect x="434.80" y="148.05" width="73.60" height="11.50" fill="#ececec" rx="1.6"/>
<g clip-path="url(#cp5)">
<ellipse cx="443.60" cy="154.10" rx="5.95" ry="2.40" fill="#000" opacity="1.0" filter="url(#b1)"/>
<ellipse cx="454.50" cy="154.10" rx="6.60" ry="2.40" fill="#000" opacity="1.0" filter="url(#b1)"/>
<ellipse cx="465.60" cy="154.10" rx="5.30" ry="2.40" fill="#000" opacity="1.0" filter="url(#b1)"/>
<ellipse cx="477.20" cy="154.10" rx="6.20" ry="2.40" fill="#000" opacity="1.0" filter="url(#b1)"/>
<ellipse cx="488.00" cy="154.10" rx="5.50" ry="2.40" fill="#000" opacity="1.0" filter="url(#b1)"/>
<ellipse cx="501.40" cy="154.10" rx="6.50" ry="2.40" fill="#000" opacity="1.0" filter="url(#b1)"/>
</g>
<rect x="434.80" y="148.05" width="73.60" height="11.50" fill="none" stroke="#0a0a0a" stroke-width="1.2" rx="1.6"/>
<text x="385.50" y="168.00" font-size="7.9" fill="#242424" dy="2.84" stroke="#242424" stroke-width="0.12">IB: β-actin</text>
<clipPath id="cp6"><rect x="434.8" y="163.1" width="73.60" height="11.5" rx="1.6"/></clipPath>
<rect x="434.80" y="163.10" width="73.60" height="11.50" fill="#f3f3f3" rx="1.6"/>
<g clip-path="url(#cp6)">
<rect x="439.15" y="167.75" width="8.90" height="2.60" rx="1.18" fill="#1a1a1a" opacity="0.9" filter="url(#b1)"/>
<rect x="449.40" y="168.20" width="10.20" height="1.90" rx="0.86" fill="#1a1a1a" opacity="0.65" filter="url(#b1)"/>
<rect x="461.80" y="167.30" width="7.60" height="3.10" rx="1.41" fill="#1a1a1a" opacity="1.0" filter="url(#b1)"/>
<rect x="472.50" y="167.60" width="9.40" height="2.10" rx="0.95" fill="#1a1a1a" opacity="0.85" filter="url(#b1)"/>
<rect x="484.00" y="167.40" width="8.00" height="2.30" rx="1.05" fill="#1a1a1a" opacity="0.6" filter="url(#b1)"/>
<rect x="496.40" y="167.40" width="10.00" height="1.90" rx="0.86" fill="#1a1a1a" opacity="0.65" filter="url(#b1)"/>
</g>
<rect x="434.80" y="163.10" width="73.60" height="11.50" fill="none" stroke="#0a0a0a" stroke-width="1.2" rx="1.6"/>
<text x="82.55" y="211.20" font-size="6.6" text-anchor="middle" dy="2.38" stroke="#1a1a1a" stroke-width="0.22">BEZ235 (µmol/L)</text>
<text x="27.75" y="215.70" font-size="6.45" text-anchor="end" dy="2.32" stroke="#1a1a1a" stroke-width="0.26"><tspan font-style="italic">N</tspan> = 3</text>
<text x="37.49" y="219.60" font-size="5.05" text-anchor="middle" dy="1.82" stroke="#1a1a1a" stroke-width="0.22">0.5</text>
<text x="62.53" y="219.60" font-size="5.05" text-anchor="middle" dy="1.82" stroke="#1a1a1a" stroke-width="0.22">1</text>
<text x="87.57" y="219.60" font-size="5.05" text-anchor="middle" dy="1.82" stroke="#1a1a1a" stroke-width="0.22">2</text>
<text x="112.61" y="219.60" font-size="5.05" text-anchor="middle" dy="1.82" stroke="#1a1a1a" stroke-width="0.22">4</text>
<text x="22.90" y="233.22" font-size="5.3" text-anchor="end" dy="1.91" stroke="#1a1a1a" stroke-width="0.22">1.25</text>
<text x="22.90" y="250.86" font-size="5.3" text-anchor="end" dy="1.91" stroke="#1a1a1a" stroke-width="0.22">2.5</text>
<text x="22.90" y="268.50" font-size="5.3" text-anchor="end" dy="1.91" stroke="#1a1a1a" stroke-width="0.22">5</text>
<text x="22.90" y="286.14" font-size="5.3" text-anchor="end" dy="1.91" stroke="#1a1a1a" stroke-width="0.22">10</text>
<text x="22.90" y="303.78" font-size="5.3" text-anchor="end" dy="1.91" stroke="#1a1a1a" stroke-width="0.22">20</text>
<text x="8.10" y="262.40" font-size="6.4" text-anchor="middle" transform="rotate(-90 8.10 262.40)" dy="2.30" stroke="#1a1a1a" stroke-width="0.22">CDDP (µmol/L)</text>
<rect x="24.40" y="224.40" width="26.03" height="17.69" fill="#0000e6" />
<rect x="50.38" y="224.40" width="26.03" height="17.69" fill="#0070ff" />
<rect x="76.35" y="224.40" width="26.03" height="17.69" fill="#0049ff" />
<rect x="102.33" y="224.40" width="26.03" height="17.69" fill="#00aaff" />
<rect x="24.40" y="242.04" width="26.03" height="17.69" fill="#0036ff" />
<rect x="50.38" y="242.04" width="26.03" height="17.69" fill="#0070ff" />
<rect x="76.35" y="242.04" width="26.03" height="17.69" fill="#0040ff" />
<rect x="102.33" y="242.04" width="26.03" height="17.69" fill="#0091ff" />
<rect x="24.40" y="259.68" width="26.03" height="17.69" fill="#0ffff0" />
<rect x="50.38" y="259.68" width="26.03" height="17.69" fill="#42ffbd" />
<rect x="76.35" y="259.68" width="26.03" height="17.69" fill="#00e5ff" />
<rect x="102.33" y="259.68" width="26.03" height="17.69" fill="#0ffff0" />
<rect x="24.40" y="277.32" width="26.03" height="17.69" fill="#ebff14" />
<rect x="50.38" y="277.32" width="26.03" height="17.69" fill="#faff05" />
<rect x="76.35" y="277.32" width="26.03" height="17.69" fill="#80ff80" />
<rect x="102.33" y="277.32" width="26.03" height="17.69" fill="#85ff7a" />
<rect x="24.40" y="294.96" width="26.03" height="17.69" fill="#fff500" />
<rect x="50.38" y="294.96" width="26.03" height="17.69" fill="#faff05" />
<rect x="76.35" y="294.96" width="26.03" height="17.69" fill="#7dff82" />
<rect x="102.33" y="294.96" width="26.03" height="17.69" fill="#99ff66" />
<line x1="50.38" y1="224.40" x2="50.38" y2="312.60" stroke="#000000" stroke-width="0.7" opacity="0.6"/>
<line x1="76.35" y1="224.40" x2="76.35" y2="312.60" stroke="#000000" stroke-width="0.7" opacity="0.6"/>
<line x1="102.33" y1="224.40" x2="102.33" y2="312.60" stroke="#000000" stroke-width="0.7" opacity="0.6"/>
<line x1="24.40" y1="242.04" x2="128.30" y2="242.04" stroke="#000000" stroke-width="0.7" opacity="0.6"/>
<line x1="24.40" y1="259.68" x2="128.30" y2="259.68" stroke="#000000" stroke-width="0.7" opacity="0.6"/>
<line x1="24.40" y1="277.32" x2="128.30" y2="277.32" stroke="#000000" stroke-width="0.7" opacity="0.6"/>
<line x1="24.40" y1="294.96" x2="128.30" y2="294.96" stroke="#000000" stroke-width="0.7" opacity="0.6"/>
<text x="29.00" y="230.03" font-size="5.8" fill="#a8bcff" opacity="0.5" dy="2.09" stroke="#a8bcff" stroke-width="0.12">40</text>
<text x="29.20" y="236.16" font-size="3.0" fill="#a8bcff" opacity="0.35" dy="1.08" stroke="#a8bcff" stroke-width="0.1">n=3</text>
<text x="34.00" y="241.14" font-size="3.4" fill="#a8bcff" opacity="0.35" dy="1.22" stroke="#a8bcff" stroke-width="0.1">**</text>
<text x="54.98" y="230.03" font-size="5.8" fill="#a8bcff" opacity="0.5" dy="2.09" stroke="#a8bcff" stroke-width="0.12">28</text>
<text x="55.18" y="236.16" font-size="3.0" fill="#a8bcff" opacity="0.35" dy="1.08" stroke="#a8bcff" stroke-width="0.1">n=3</text>
<text x="59.98" y="241.14" font-size="3.4" fill="#a8bcff" opacity="0.35" dy="1.22" stroke="#a8bcff" stroke-width="0.1">**</text>
<text x="80.95" y="230.03" font-size="5.8" fill="#a8bcff" opacity="0.5" dy="2.09" stroke="#a8bcff" stroke-width="0.12">32</text>
<text x="81.15" y="236.16" font-size="3.0" fill="#a8bcff" opacity="0.35" dy="1.08" stroke="#a8bcff" stroke-width="0.1">n=3</text>
<text x="85.95" y="241.14" font-size="3.4" fill="#a8bcff" opacity="0.35" dy="1.22" stroke="#a8bcff" stroke-width="0.1">**</text>
<text x="106.93" y="230.03" font-size="5.8" fill="#2a55c8" opacity="0.28" dy="2.09" stroke="#2a55c8" stroke-width="0.12">21</text>
<text x="107.13" y="236.16" font-size="3.0" fill="#2a55c8" opacity="0.196" dy="1.08" stroke="#2a55c8" stroke-width="0.1">n=3</text>
<text x="111.93" y="241.14" font-size="3.4" fill="#2a55c8" opacity="0.196" dy="1.22" stroke="#2a55c8" stroke-width="0.1">**</text>
<text x="29.00" y="247.67" font-size="5.8" fill="#a8bcff" opacity="0.5" dy="2.09" stroke="#a8bcff" stroke-width="0.12">34</text>
<text x="29.20" y="253.80" font-size="3.0" fill="#a8bcff" opacity="0.35" dy="1.08" stroke="#a8bcff" stroke-width="0.1">n=3</text>
<text x="34.00" y="258.78" font-size="3.4" fill="#a8bcff" opacity="0.35" dy="1.22" stroke="#a8bcff" stroke-width="0.1">**</text>
<text x="54.98" y="247.67" font-size="5.8" fill="#a8bcff" opacity="0.5" dy="2.09" stroke="#a8bcff" stroke-width="0.12">28</text>
<text x="55.18" y="253.80" font-size="3.0" fill="#a8bcff" opacity="0.35" dy="1.08" stroke="#a8bcff" stroke-width="0.1">n=3</text>
<text x="59.98" y="258.78" font-size="3.4" fill="#a8bcff" opacity="0.35" dy="1.22" stroke="#a8bcff" stroke-width="0.1">**</text>
<text x="80.95" y="247.67" font-size="5.8" fill="#a8bcff" opacity="0.5" dy="2.09" stroke="#a8bcff" stroke-width="0.12">33</text>
<text x="81.15" y="253.80" font-size="3.0" fill="#a8bcff" opacity="0.35" dy="1.08" stroke="#a8bcff" stroke-width="0.1">n=3</text>
<text x="85.95" y="258.78" font-size="3.4" fill="#a8bcff" opacity="0.35" dy="1.22" stroke="#a8bcff" stroke-width="0.1">**</text>
<text x="106.93" y="247.67" font-size="5.8" fill="#2a55c8" opacity="0.28" dy="2.09" stroke="#2a55c8" stroke-width="0.12">24</text>
<text x="107.13" y="253.80" font-size="3.0" fill="#2a55c8" opacity="0.196" dy="1.08" stroke="#2a55c8" stroke-width="0.1">n=3</text>
<text x="111.93" y="258.78" font-size="3.4" fill="#2a55c8" opacity="0.196" dy="1.22" stroke="#2a55c8" stroke-width="0.1">**</text>
<text x="29.00" y="265.31" font-size="5.8" fill="#1c4a8c" opacity="0.62" dy="2.09" stroke="#1c4a8c" stroke-width="0.12">11</text>
<text x="29.20" y="271.44" font-size="3.0" fill="#1c4a8c" opacity="0.434" dy="1.08" stroke="#1c4a8c" stroke-width="0.1">n=3</text>
<text x="34.00" y="276.42" font-size="3.4" fill="#1c4a8c" opacity="0.434" dy="1.22" stroke="#1c4a8c" stroke-width="0.1">**</text>
<text x="54.98" y="265.31" font-size="5.8" fill="#2a3340" opacity="0.6" dy="2.09" stroke="#2a3340" stroke-width="0.12">7</text>
<text x="55.18" y="271.44" font-size="3.0" fill="#2a3340" opacity="0.42" dy="1.08" stroke="#2a3340" stroke-width="0.1">n=3</text>
<text x="80.95" y="265.31" font-size="5.8" fill="#1c4a8c" opacity="0.62" dy="2.09" stroke="#1c4a8c" stroke-width="0.12">15</text>
<text x="81.15" y="271.44" font-size="3.0" fill="#1c4a8c" opacity="0.434" dy="1.08" stroke="#1c4a8c" stroke-width="0.1">n=3</text>
<text x="85.95" y="276.42" font-size="3.4" fill="#1c4a8c" opacity="0.434" dy="1.22" stroke="#1c4a8c" stroke-width="0.1">**</text>
<text x="106.93" y="265.31" font-size="5.8" fill="#1c4a8c" opacity="0.62" dy="2.09" stroke="#1c4a8c" stroke-width="0.12">11</text>
<text x="107.13" y="271.44" font-size="3.0" fill="#1c4a8c" opacity="0.434" dy="1.08" stroke="#1c4a8c" stroke-width="0.1">n=3</text>
<text x="111.93" y="276.42" font-size="3.4" fill="#1c4a8c" opacity="0.434" dy="1.22" stroke="#1c4a8c" stroke-width="0.1">**</text>
<text x="29.00" y="282.95" font-size="5.8" fill="#2a3340" opacity="0.6" dy="2.09" stroke="#2a3340" stroke-width="0.12">-9</text>
<text x="29.20" y="289.08" font-size="3.0" fill="#2a3340" opacity="0.42" dy="1.08" stroke="#2a3340" stroke-width="0.1">n=3</text>
<text x="54.98" y="282.95" font-size="5.8" fill="#2a3340" opacity="0.6" dy="2.09" stroke="#2a3340" stroke-width="0.12">-10</text>
<text x="55.18" y="289.08" font-size="3.0" fill="#2a3340" opacity="0.42" dy="1.08" stroke="#2a3340" stroke-width="0.1">n=3</text>
<text x="59.98" y="294.06" font-size="3.4" fill="#2a3340" opacity="0.42" dy="1.22" stroke="#2a3340" stroke-width="0.1">**</text>
<text x="80.95" y="282.95" font-size="5.8" fill="#2a3340" opacity="0.6" dy="2.09" stroke="#2a3340" stroke-width="0.12">0</text>
<text x="81.15" y="289.08" font-size="3.0" fill="#2a3340" opacity="0.42" dy="1.08" stroke="#2a3340" stroke-width="0.1">n=3</text>
<text x="106.93" y="282.95" font-size="5.8" fill="#2a3340" opacity="0.6" dy="2.09" stroke="#2a3340" stroke-width="0.12">-1</text>
<text x="107.13" y="289.08" font-size="3.0" fill="#2a3340" opacity="0.42" dy="1.08" stroke="#2a3340" stroke-width="0.1">n=3</text>
<text x="111.93" y="294.06" font-size="3.4" fill="#2a3340" opacity="0.42" dy="1.22" stroke="#2a3340" stroke-width="0.1">**</text>
<text x="29.00" y="300.59" font-size="5.8" fill="#2a3340" opacity="0.6" dy="2.09" stroke="#2a3340" stroke-width="0.12">-12</text>
<text x="29.20" y="306.72" font-size="3.0" fill="#2a3340" opacity="0.42" dy="1.08" stroke="#2a3340" stroke-width="0.1">n=3</text>
<text x="34.00" y="311.70" font-size="3.4" fill="#2a3340" opacity="0.42" dy="1.22" stroke="#2a3340" stroke-width="0.1">**</text>
<text x="54.98" y="300.59" font-size="5.8" fill="#2a3340" opacity="0.6" dy="2.09" stroke="#2a3340" stroke-width="0.12">-10</text>
<text x="55.18" y="306.72" font-size="3.0" fill="#2a3340" opacity="0.42" dy="1.08" stroke="#2a3340" stroke-width="0.1">n=3</text>
<text x="80.95" y="300.59" font-size="5.8" fill="#2a3340" opacity="0.6" dy="2.09" stroke="#2a3340" stroke-width="0.12">1</text>
<text x="81.15" y="306.72" font-size="3.0" fill="#2a3340" opacity="0.42" dy="1.08" stroke="#2a3340" stroke-width="0.1">n=3</text>
<text x="85.95" y="311.70" font-size="3.4" fill="#2a3340" opacity="0.42" dy="1.22" stroke="#2a3340" stroke-width="0.1">**</text>
<text x="106.93" y="300.59" font-size="5.8" fill="#2a3340" opacity="0.6" dy="2.09" stroke="#2a3340" stroke-width="0.12">-3</text>
<text x="107.13" y="306.72" font-size="3.0" fill="#2a3340" opacity="0.42" dy="1.08" stroke="#2a3340" stroke-width="0.1">n=3</text>
<rect x="132.20" y="224.40" width="7.30" height="88.20" fill="url(#jet)" />
<text x="144.80" y="245.13" font-size="5.3" text-anchor="middle" fill="#000" font-weight="bold" transform="rotate(-90 144.80 245.13)" dy="1.91" stroke="#000" stroke-width="0.18">Synergy</text>
<text x="144.80" y="287.46" font-size="5.3" text-anchor="middle" fill="#000" font-weight="bold" transform="rotate(-90 144.80 287.46)" dy="1.91" stroke="#000" stroke-width="0.18">Antagonism</text>
<text x="77.95" y="317.90" font-size="5.95" text-anchor="middle" dy="2.14" stroke="#1a1a1a" stroke-width="0.22">Bliss synergy and antagonism</text>
<text x="77.95" y="325.50" font-size="5.95" text-anchor="middle" dy="2.14" stroke="#1a1a1a" stroke-width="0.22">CDDP plus BEZ235</text>
<text x="269.00" y="212.20" font-size="6.6" text-anchor="middle" dy="2.38" stroke="#1a1a1a" stroke-width="0.22">BKM120 (µmol/L)</text>
<text x="212.50" y="216.70" font-size="6.45" text-anchor="end" dy="2.32" stroke="#1a1a1a" stroke-width="0.26"><tspan font-style="italic">N</tspan> = 3</text>
<text x="224.09" y="220.60" font-size="5.05" text-anchor="middle" dy="1.82" stroke="#1a1a1a" stroke-width="0.22">0.25</text>
<text x="249.13" y="220.60" font-size="5.05" text-anchor="middle" dy="1.82" stroke="#1a1a1a" stroke-width="0.22">0.5</text>
<text x="274.17" y="220.60" font-size="5.05" text-anchor="middle" dy="1.82" stroke="#1a1a1a" stroke-width="0.22">2</text>
<text x="299.21" y="220.60" font-size="5.05" text-anchor="middle" dy="1.82" stroke="#1a1a1a" stroke-width="0.22">4</text>
<text x="209.50" y="236.41" font-size="5.3" text-anchor="end" dy="1.91" stroke="#1a1a1a" stroke-width="0.22">1.25</text>
<text x="209.50" y="258.44" font-size="5.3" text-anchor="end" dy="1.91" stroke="#1a1a1a" stroke-width="0.22">2.5</text>
<text x="209.50" y="280.46" font-size="5.3" text-anchor="end" dy="1.91" stroke="#1a1a1a" stroke-width="0.22">5</text>
<text x="209.50" y="302.49" font-size="5.3" text-anchor="end" dy="1.91" stroke="#1a1a1a" stroke-width="0.22">10</text>
<text x="195.20" y="263.40" font-size="6.4" text-anchor="middle" transform="rotate(-90 195.20 263.40)" dy="2.30" stroke="#1a1a1a" stroke-width="0.22">CDDP (µmol/L)</text>
<rect x="211.00" y="225.40" width="26.02" height="22.07" fill="#7dff82" />
<rect x="236.97" y="225.40" width="26.02" height="22.07" fill="#7aff85" />
<rect x="262.95" y="225.40" width="26.02" height="22.07" fill="#ffbd00" />
<rect x="288.92" y="225.40" width="26.02" height="22.07" fill="#ffa300" />
<rect x="211.00" y="247.43" width="26.02" height="22.07" fill="#7dff82" />
<rect x="236.97" y="247.43" width="26.02" height="22.07" fill="#7cff83" />
<rect x="262.95" y="247.43" width="26.02" height="22.07" fill="#fffc00" />
<rect x="288.92" y="247.43" width="26.02" height="22.07" fill="#ff9900" />
<rect x="211.00" y="269.45" width="26.02" height="22.07" fill="#ffcc00" />
<rect x="236.97" y="269.45" width="26.02" height="22.07" fill="#ffe500" />
<rect x="262.95" y="269.45" width="26.02" height="22.07" fill="#faff05" />
<rect x="288.92" y="269.45" width="26.02" height="22.07" fill="#ff8000" />
<rect x="211.00" y="291.48" width="26.02" height="22.07" fill="#ffbd00" />
<rect x="236.97" y="291.48" width="26.02" height="22.07" fill="#ffad00" />
<rect x="262.95" y="291.48" width="26.02" height="22.07" fill="#38ffc7" />
<rect x="288.92" y="291.48" width="26.02" height="22.07" fill="#7dff82" />
<line x1="236.97" y1="225.40" x2="236.97" y2="313.50" stroke="#000000" stroke-width="0.7" opacity="0.6"/>
<line x1="262.95" y1="225.40" x2="262.95" y2="313.50" stroke="#000000" stroke-width="0.7" opacity="0.6"/>
<line x1="288.92" y1="225.40" x2="288.92" y2="313.50" stroke="#000000" stroke-width="0.7" opacity="0.6"/>
<line x1="211.00" y1="247.43" x2="314.90" y2="247.43" stroke="#000000" stroke-width="0.7" opacity="0.6"/>
<line x1="211.00" y1="269.45" x2="314.90" y2="269.45" stroke="#000000" stroke-width="0.7" opacity="0.6"/>
<line x1="211.00" y1="291.48" x2="314.90" y2="291.48" stroke="#000000" stroke-width="0.7" opacity="0.6"/>
<text x="215.60" y="231.52" font-size="5.8" fill="#2a3340" opacity="0.6" dy="2.09" stroke="#2a3340" stroke-width="0.12">4</text>
<text x="215.80" y="238.91" font-size="3.0" fill="#2a3340" opacity="0.42" dy="1.08" stroke="#2a3340" stroke-width="0.1">n=3</text>
<text x="220.60" y="246.53" font-size="3.4" fill="#2a3340" opacity="0.42" dy="1.22" stroke="#2a3340" stroke-width="0.1">**</text>
<text x="241.57" y="231.52" font-size="5.8" fill="#2a3340" opacity="0.6" dy="2.09" stroke="#2a3340" stroke-width="0.12">5</text>
<text x="241.77" y="238.91" font-size="3.0" fill="#2a3340" opacity="0.42" dy="1.08" stroke="#2a3340" stroke-width="0.1">n=3</text>
<text x="267.55" y="231.52" font-size="5.8" fill="#2a3340" opacity="0.6" dy="2.09" stroke="#2a3340" stroke-width="0.12">-17</text>
<text x="267.75" y="238.91" font-size="3.0" fill="#2a3340" opacity="0.42" dy="1.08" stroke="#2a3340" stroke-width="0.1">n=3</text>
<text x="272.55" y="246.53" font-size="3.4" fill="#2a3340" opacity="0.42" dy="1.22" stroke="#2a3340" stroke-width="0.1">**</text>
<text x="293.52" y="231.52" font-size="5.8" fill="#2a3340" opacity="0.6" dy="2.09" stroke="#2a3340" stroke-width="0.12">-19</text>
<text x="293.72" y="238.91" font-size="3.0" fill="#2a3340" opacity="0.42" dy="1.08" stroke="#2a3340" stroke-width="0.1">n=3</text>
<text x="215.60" y="253.54" font-size="5.8" fill="#2a3340" opacity="0.6" dy="2.09" stroke="#2a3340" stroke-width="0.12">-3</text>
<text x="215.80" y="260.94" font-size="3.0" fill="#2a3340" opacity="0.42" dy="1.08" stroke="#2a3340" stroke-width="0.1">n=3</text>
<text x="241.57" y="253.54" font-size="5.8" fill="#2a3340" opacity="0.6" dy="2.09" stroke="#2a3340" stroke-width="0.12">0</text>
<text x="241.77" y="260.94" font-size="3.0" fill="#2a3340" opacity="0.42" dy="1.08" stroke="#2a3340" stroke-width="0.1">n=3</text>
<text x="246.57" y="268.55" font-size="3.4" fill="#2a3340" opacity="0.42" dy="1.22" stroke="#2a3340" stroke-width="0.1">**</text>
<text x="267.55" y="253.54" font-size="5.8" fill="#2a3340" opacity="0.6" dy="2.09" stroke="#2a3340" stroke-width="0.12">-11</text>
<text x="267.75" y="260.94" font-size="3.0" fill="#2a3340" opacity="0.42" dy="1.08" stroke="#2a3340" stroke-width="0.1">n=3</text>
<text x="293.52" y="253.54" font-size="5.8" fill="#2a3340" opacity="0.6" dy="2.09" stroke="#2a3340" stroke-width="0.12">-20</text>
<text x="293.72" y="260.94" font-size="3.0" fill="#2a3340" opacity="0.42" dy="1.08" stroke="#2a3340" stroke-width="0.1">n=3</text>
<text x="298.52" y="268.55" font-size="3.4" fill="#2a3340" opacity="0.42" dy="1.22" stroke="#2a3340" stroke-width="0.1">**</text>
<text x="215.60" y="275.57" font-size="5.8" fill="#2a3340" opacity="0.6" dy="2.09" stroke="#2a3340" stroke-width="0.12">-16</text>
<text x="215.80" y="282.96" font-size="3.0" fill="#2a3340" opacity="0.42" dy="1.08" stroke="#2a3340" stroke-width="0.1">n=3</text>
<text x="220.60" y="290.58" font-size="3.4" fill="#2a3340" opacity="0.42" dy="1.22" stroke="#2a3340" stroke-width="0.1">**</text>
<text x="241.57" y="275.57" font-size="5.8" fill="#2a3340" opacity="0.6" dy="2.09" stroke="#2a3340" stroke-width="0.12">-14</text>
<text x="241.77" y="282.96" font-size="3.0" fill="#2a3340" opacity="0.42" dy="1.08" stroke="#2a3340" stroke-width="0.1">n=3</text>
<text x="267.55" y="275.57" font-size="5.8" fill="#2a3340" opacity="0.6" dy="2.09" stroke="#2a3340" stroke-width="0.12">-10</text>
<text x="267.75" y="282.96" font-size="3.0" fill="#2a3340" opacity="0.42" dy="1.08" stroke="#2a3340" stroke-width="0.1">n=3</text>
<text x="272.55" y="290.58" font-size="3.4" fill="#2a3340" opacity="0.42" dy="1.22" stroke="#2a3340" stroke-width="0.1">**</text>
<text x="293.52" y="275.57" font-size="5.8" fill="#2a3340" opacity="0.6" dy="2.09" stroke="#2a3340" stroke-width="0.12">-23</text>
<text x="293.72" y="282.96" font-size="3.0" fill="#2a3340" opacity="0.42" dy="1.08" stroke="#2a3340" stroke-width="0.1">n=3</text>
<text x="215.60" y="297.59" font-size="5.8" fill="#2a3340" opacity="0.6" dy="2.09" stroke="#2a3340" stroke-width="0.12">-17</text>
<text x="215.80" y="304.99" font-size="3.0" fill="#2a3340" opacity="0.42" dy="1.08" stroke="#2a3340" stroke-width="0.1">n=3</text>
<text x="241.57" y="297.59" font-size="5.8" fill="#2a3340" opacity="0.6" dy="2.09" stroke="#2a3340" stroke-width="0.12">-18</text>
<text x="241.77" y="304.99" font-size="3.0" fill="#2a3340" opacity="0.42" dy="1.08" stroke="#2a3340" stroke-width="0.1">n=3</text>
<text x="246.57" y="312.60" font-size="3.4" fill="#2a3340" opacity="0.42" dy="1.22" stroke="#2a3340" stroke-width="0.1">**</text>
<text x="267.55" y="297.59" font-size="5.8" fill="#2a3340" opacity="0.6" dy="2.09" stroke="#2a3340" stroke-width="0.12">8</text>
<text x="267.75" y="304.99" font-size="3.0" fill="#2a3340" opacity="0.42" dy="1.08" stroke="#2a3340" stroke-width="0.1">n=3</text>
<text x="293.52" y="297.59" font-size="5.8" fill="#2a3340" opacity="0.6" dy="2.09" stroke="#2a3340" stroke-width="0.12">1</text>
<text x="293.72" y="304.99" font-size="3.0" fill="#2a3340" opacity="0.42" dy="1.08" stroke="#2a3340" stroke-width="0.1">n=3</text>
<text x="298.52" y="312.60" font-size="3.4" fill="#2a3340" opacity="0.42" dy="1.22" stroke="#2a3340" stroke-width="0.1">**</text>
<rect x="318.50" y="225.40" width="7.30" height="88.10" fill="url(#jet)" />
<text x="331.10" y="246.10" font-size="5.3" text-anchor="middle" fill="#000" font-weight="bold" transform="rotate(-90 331.10 246.10)" dy="1.91" stroke="#000" stroke-width="0.18">Synergy</text>
<text x="331.10" y="288.39" font-size="5.3" text-anchor="middle" fill="#000" font-weight="bold" transform="rotate(-90 331.10 288.39)" dy="1.91" stroke="#000" stroke-width="0.18">Antagonism</text>
<text x="264.55" y="318.80" font-size="5.95" text-anchor="middle" dy="2.14" stroke="#1a1a1a" stroke-width="0.22">Bliss synergy and antagonism</text>
<text x="264.55" y="326.40" font-size="5.95" text-anchor="middle" dy="2.14" stroke="#1a1a1a" stroke-width="0.22">CDDP plus BKM120</text>
<text x="454.25" y="212.20" font-size="6.6" text-anchor="middle" dy="2.38" stroke="#1a1a1a" stroke-width="0.22">GSK2126458 (µmol/L)</text>
<text x="398.70" y="216.70" font-size="6.45" text-anchor="end" dy="2.32" stroke="#1a1a1a" stroke-width="0.26"><tspan font-style="italic">N</tspan> = 3</text>
<text x="409.30" y="220.60" font-size="5.05" text-anchor="middle" dy="1.82" stroke="#1a1a1a" stroke-width="0.22">0.03125</text>
<text x="434.36" y="220.60" font-size="5.05" text-anchor="middle" dy="1.82" stroke="#1a1a1a" stroke-width="0.22">0.0625</text>
<text x="459.43" y="220.60" font-size="5.05" text-anchor="middle" dy="1.82" stroke="#1a1a1a" stroke-width="0.22">0.125</text>
<text x="484.49" y="220.60" font-size="5.05" text-anchor="middle" dy="1.82" stroke="#1a1a1a" stroke-width="0.22">0.25</text>
<text x="394.70" y="234.19" font-size="5.3" text-anchor="end" dy="1.91" stroke="#1a1a1a" stroke-width="0.22">1.25</text>
<text x="394.70" y="251.77" font-size="5.3" text-anchor="end" dy="1.91" stroke="#1a1a1a" stroke-width="0.22">2.5</text>
<text x="394.70" y="269.35" font-size="5.3" text-anchor="end" dy="1.91" stroke="#1a1a1a" stroke-width="0.22">5</text>
<text x="394.70" y="286.93" font-size="5.3" text-anchor="end" dy="1.91" stroke="#1a1a1a" stroke-width="0.22">10</text>
<text x="394.70" y="304.51" font-size="5.3" text-anchor="end" dy="1.91" stroke="#1a1a1a" stroke-width="0.22">20</text>
<text x="379.60" y="262.90" font-size="6.4" text-anchor="middle" transform="rotate(-90 379.60 262.90)" dy="2.30" stroke="#1a1a1a" stroke-width="0.22">CDDP (µmol/L)</text>
<rect x="396.20" y="225.40" width="26.05" height="17.63" fill="#00f0ff" />
<rect x="422.20" y="225.40" width="26.05" height="17.63" fill="#5cffa3" />
<rect x="448.20" y="225.40" width="26.05" height="17.63" fill="#7aff85" />
<rect x="474.20" y="225.40" width="26.05" height="17.63" fill="#a3ff5c" />
<rect x="396.20" y="242.98" width="26.05" height="17.63" fill="#2effd1" />
<rect x="422.20" y="242.98" width="26.05" height="17.63" fill="#66ff99" />
<rect x="448.20" y="242.98" width="26.05" height="17.63" fill="#85ff7a" />
<rect x="474.20" y="242.98" width="26.05" height="17.63" fill="#99ff66" />
<rect x="396.20" y="260.56" width="26.05" height="17.63" fill="#ccff33" />
<rect x="422.20" y="260.56" width="26.05" height="17.63" fill="#70ff8f" />
<rect x="448.20" y="260.56" width="26.05" height="17.63" fill="#fffc00" />
<rect x="474.20" y="260.56" width="26.05" height="17.63" fill="#dbff24" />
<rect x="396.20" y="278.14" width="26.05" height="17.63" fill="#ff9900" />
<rect x="422.20" y="278.14" width="26.05" height="17.63" fill="#ffcc00" />
<rect x="448.20" y="278.14" width="26.05" height="17.63" fill="#ffcc00" />
<rect x="474.20" y="278.14" width="26.05" height="17.63" fill="#fff500" />
<rect x="396.20" y="295.72" width="26.05" height="17.63" fill="#ffcc00" />
<rect x="422.20" y="295.72" width="26.05" height="17.63" fill="#ffd600" />
<rect x="448.20" y="295.72" width="26.05" height="17.63" fill="#fff000" />
<rect x="474.20" y="295.72" width="26.05" height="17.63" fill="#fff000" />
<line x1="422.20" y1="225.40" x2="422.20" y2="313.30" stroke="#000000" stroke-width="0.7" opacity="0.6"/>
<line x1="448.20" y1="225.40" x2="448.20" y2="313.30" stroke="#000000" stroke-width="0.7" opacity="0.6"/>
<line x1="474.20" y1="225.40" x2="474.20" y2="313.30" stroke="#000000" stroke-width="0.7" opacity="0.6"/>
<line x1="396.20" y1="242.98" x2="500.20" y2="242.98" stroke="#000000" stroke-width="0.7" opacity="0.6"/>
<line x1="396.20" y1="260.56" x2="500.20" y2="260.56" stroke="#000000" stroke-width="0.7" opacity="0.6"/>
<line x1="396.20" y1="278.14" x2="500.20" y2="278.14" stroke="#000000" stroke-width="0.7" opacity="0.6"/>
<line x1="396.20" y1="295.72" x2="500.20" y2="295.72" stroke="#000000" stroke-width="0.7" opacity="0.6"/>
<text x="400.80" y="231.02" font-size="5.8" fill="#1c4a8c" opacity="0.62" dy="2.09" stroke="#1c4a8c" stroke-width="0.12">14</text>
<text x="401.00" y="237.13" font-size="3.0" fill="#1c4a8c" opacity="0.434" dy="1.08" stroke="#1c4a8c" stroke-width="0.1">n=3</text>
<text x="405.80" y="242.08" font-size="3.4" fill="#1c4a8c" opacity="0.434" dy="1.22" stroke="#1c4a8c" stroke-width="0.1">**</text>
<text x="426.80" y="231.02" font-size="5.8" fill="#2a3340" opacity="0.6" dy="2.09" stroke="#2a3340" stroke-width="0.12">5</text>
<text x="427.00" y="237.13" font-size="3.0" fill="#2a3340" opacity="0.42" dy="1.08" stroke="#2a3340" stroke-width="0.1">n=3</text>
<text x="452.80" y="231.02" font-size="5.8" fill="#2a3340" opacity="0.6" dy="2.09" stroke="#2a3340" stroke-width="0.12">2</text>
<text x="453.00" y="237.13" font-size="3.0" fill="#2a3340" opacity="0.42" dy="1.08" stroke="#2a3340" stroke-width="0.1">n=3</text>
<text x="457.80" y="242.08" font-size="3.4" fill="#2a3340" opacity="0.42" dy="1.22" stroke="#2a3340" stroke-width="0.1">**</text>
<text x="478.80" y="231.02" font-size="5.8" fill="#2a3340" opacity="0.6" dy="2.09" stroke="#2a3340" stroke-width="0.12">-4</text>
<text x="479.00" y="237.13" font-size="3.0" fill="#2a3340" opacity="0.42" dy="1.08" stroke="#2a3340" stroke-width="0.1">n=3</text>
<text x="400.80" y="248.60" font-size="5.8" fill="#2a3340" opacity="0.6" dy="2.09" stroke="#2a3340" stroke-width="0.12">9</text>
<text x="401.00" y="254.71" font-size="3.0" fill="#2a3340" opacity="0.42" dy="1.08" stroke="#2a3340" stroke-width="0.1">n=3</text>
<text x="426.80" y="248.60" font-size="5.8" fill="#2a3340" opacity="0.6" dy="2.09" stroke="#2a3340" stroke-width="0.12">4</text>
<text x="427.00" y="254.71" font-size="3.0" fill="#2a3340" opacity="0.42" dy="1.08" stroke="#2a3340" stroke-width="0.1">n=3</text>
<text x="431.80" y="259.66" font-size="3.4" fill="#2a3340" opacity="0.42" dy="1.22" stroke="#2a3340" stroke-width="0.1">**</text>
<text x="452.80" y="248.60" font-size="5.8" fill="#2a3340" opacity="0.6" dy="2.09" stroke="#2a3340" stroke-width="0.12">-1</text>
<text x="453.00" y="254.71" font-size="3.0" fill="#2a3340" opacity="0.42" dy="1.08" stroke="#2a3340" stroke-width="0.1">n=3</text>
<text x="478.80" y="248.60" font-size="5.8" fill="#2a3340" opacity="0.6" dy="2.09" stroke="#2a3340" stroke-width="0.12">-3</text>
<text x="479.00" y="254.71" font-size="3.0" fill="#2a3340" opacity="0.42" dy="1.08" stroke="#2a3340" stroke-width="0.1">n=3</text>
<text x="483.80" y="259.66" font-size="3.4" fill="#2a3340" opacity="0.42" dy="1.22" stroke="#2a3340" stroke-width="0.1">**</text>
<text x="400.80" y="266.18" font-size="5.8" fill="#2a3340" opacity="0.6" dy="2.09" stroke="#2a3340" stroke-width="0.12">-6</text>
<text x="401.00" y="272.29" font-size="3.0" fill="#2a3340" opacity="0.42" dy="1.08" stroke="#2a3340" stroke-width="0.1">n=3</text>
<text x="405.80" y="277.24" font-size="3.4" fill="#2a3340" opacity="0.42" dy="1.22" stroke="#2a3340" stroke-width="0.1">**</text>
<text x="426.80" y="266.18" font-size="5.8" fill="#2a3340" opacity="0.6" dy="2.09" stroke="#2a3340" stroke-width="0.12">-8</text>
<text x="427.00" y="272.29" font-size="3.0" fill="#2a3340" opacity="0.42" dy="1.08" stroke="#2a3340" stroke-width="0.1">n=3</text>
<text x="452.80" y="266.18" font-size="5.8" fill="#2a3340" opacity="0.6" dy="2.09" stroke="#2a3340" stroke-width="0.12">-11</text>
<text x="453.00" y="272.29" font-size="3.0" fill="#2a3340" opacity="0.42" dy="1.08" stroke="#2a3340" stroke-width="0.1">n=3</text>
<text x="457.80" y="277.24" font-size="3.4" fill="#2a3340" opacity="0.42" dy="1.22" stroke="#2a3340" stroke-width="0.1">**</text>
<text x="478.80" y="266.18" font-size="5.8" fill="#2a3340" opacity="0.6" dy="2.09" stroke="#2a3340" stroke-width="0.12">-8</text>
<text x="479.00" y="272.29" font-size="3.0" fill="#2a3340" opacity="0.42" dy="1.08" stroke="#2a3340" stroke-width="0.1">n=3</text>
<text x="400.80" y="283.76" font-size="5.8" fill="#2a3340" opacity="0.6" dy="2.09" stroke="#2a3340" stroke-width="0.12">-20</text>
<text x="401.00" y="289.87" font-size="3.0" fill="#2a3340" opacity="0.42" dy="1.08" stroke="#2a3340" stroke-width="0.1">n=3</text>
<text x="426.80" y="283.76" font-size="5.8" fill="#2a3340" opacity="0.6" dy="2.09" stroke="#2a3340" stroke-width="0.12">-16</text>
<text x="427.00" y="289.87" font-size="3.0" fill="#2a3340" opacity="0.42" dy="1.08" stroke="#2a3340" stroke-width="0.1">n=3</text>
<text x="431.80" y="294.82" font-size="3.4" fill="#2a3340" opacity="0.42" dy="1.22" stroke="#2a3340" stroke-width="0.1">**</text>
<text x="452.80" y="283.76" font-size="5.8" fill="#2a3340" opacity="0.6" dy="2.09" stroke="#2a3340" stroke-width="0.12">-16</text>
<text x="453.00" y="289.87" font-size="3.0" fill="#2a3340" opacity="0.42" dy="1.08" stroke="#2a3340" stroke-width="0.1">n=3</text>
<text x="478.80" y="283.76" font-size="5.8" fill="#2a3340" opacity="0.6" dy="2.09" stroke="#2a3340" stroke-width="0.12">-12</text>
<text x="479.00" y="289.87" font-size="3.0" fill="#2a3340" opacity="0.42" dy="1.08" stroke="#2a3340" stroke-width="0.1">n=3</text>
<text x="483.80" y="294.82" font-size="3.4" fill="#2a3340" opacity="0.42" dy="1.22" stroke="#2a3340" stroke-width="0.1">**</text>
<text x="400.80" y="301.34" font-size="5.8" fill="#2a3340" opacity="0.6" dy="2.09" stroke="#2a3340" stroke-width="0.12">-16</text>
<text x="401.00" y="307.45" font-size="3.0" fill="#2a3340" opacity="0.42" dy="1.08" stroke="#2a3340" stroke-width="0.1">n=3</text>
<text x="405.80" y="312.40" font-size="3.4" fill="#2a3340" opacity="0.42" dy="1.22" stroke="#2a3340" stroke-width="0.1">**</text>
<text x="426.80" y="301.34" font-size="5.8" fill="#2a3340" opacity="0.6" dy="2.09" stroke="#2a3340" stroke-width="0.12">-15</text>
<text x="427.00" y="307.45" font-size="3.0" fill="#2a3340" opacity="0.42" dy="1.08" stroke="#2a3340" stroke-width="0.1">n=3</text>
<text x="452.80" y="301.34" font-size="5.8" fill="#2a3340" opacity="0.6" dy="2.09" stroke="#2a3340" stroke-width="0.12">-13</text>
<text x="453.00" y="307.45" font-size="3.0" fill="#2a3340" opacity="0.42" dy="1.08" stroke="#2a3340" stroke-width="0.1">n=3</text>
<text x="457.80" y="312.40" font-size="3.4" fill="#2a3340" opacity="0.42" dy="1.22" stroke="#2a3340" stroke-width="0.1">**</text>
<text x="478.80" y="301.34" font-size="5.8" fill="#2a3340" opacity="0.6" dy="2.09" stroke="#2a3340" stroke-width="0.12">-13</text>
<text x="479.00" y="307.45" font-size="3.0" fill="#2a3340" opacity="0.42" dy="1.08" stroke="#2a3340" stroke-width="0.1">n=3</text>
<rect x="503.80" y="225.40" width="7.30" height="87.90" fill="url(#jet)" />
<text x="516.40" y="246.06" font-size="5.3" text-anchor="middle" fill="#000" font-weight="bold" transform="rotate(-90 516.40 246.06)" dy="1.91" stroke="#000" stroke-width="0.18">Synergy</text>
<text x="516.40" y="288.25" font-size="5.3" text-anchor="middle" fill="#000" font-weight="bold" transform="rotate(-90 516.40 288.25)" dy="1.91" stroke="#000" stroke-width="0.18">Antagonism</text>
<text x="449.80" y="318.60" font-size="5.95" text-anchor="middle" dy="2.14" stroke="#1a1a1a" stroke-width="0.22">Bliss synergy and antagonism</text>
<text x="449.80" y="326.20" font-size="5.95" text-anchor="middle" dy="2.14" stroke="#1a1a1a" stroke-width="0.22">CDDP plus GSK2126458</text>
<text x="80.80" y="342.30" font-size="6.6" text-anchor="middle" dy="2.38" stroke="#1a1a1a" stroke-width="0.22">BEZ235 (µmol/L)</text>
<text x="21.30" y="346.80" font-size="6.45" text-anchor="end" dy="2.32" stroke="#1a1a1a" stroke-width="0.26"><tspan font-style="italic">N</tspan> = 3</text>
<text x="31.74" y="350.70" font-size="5.05" text-anchor="middle" dy="1.82" stroke="#1a1a1a" stroke-width="0.22">0.0625</text>
<text x="52.45" y="350.70" font-size="5.05" text-anchor="middle" dy="1.82" stroke="#1a1a1a" stroke-width="0.22">0.125</text>
<text x="73.15" y="350.70" font-size="5.05" text-anchor="middle" dy="1.82" stroke="#1a1a1a" stroke-width="0.22">0.25</text>
<text x="93.86" y="350.70" font-size="5.05" text-anchor="middle" dy="1.82" stroke="#1a1a1a" stroke-width="0.22">0.5</text>
<text x="114.57" y="350.70" font-size="5.05" text-anchor="middle" dy="1.82" stroke="#1a1a1a" stroke-width="0.22">1</text>
<text x="19.40" y="366.55" font-size="5.3" text-anchor="end" dy="1.91" stroke="#1a1a1a" stroke-width="0.22">2.5</text>
<text x="19.40" y="388.65" font-size="5.3" text-anchor="end" dy="1.91" stroke="#1a1a1a" stroke-width="0.22">5</text>
<text x="19.40" y="410.75" font-size="5.3" text-anchor="end" dy="1.91" stroke="#1a1a1a" stroke-width="0.22">10</text>
<text x="19.40" y="432.85" font-size="5.3" text-anchor="end" dy="1.91" stroke="#1a1a1a" stroke-width="0.22">20</text>
<text x="7.80" y="399.70" font-size="6.4" text-anchor="middle" transform="rotate(-90 7.80 399.70)" dy="2.30" stroke="#1a1a1a" stroke-width="0.22">CDDP (µmol/L)</text>
<rect x="20.90" y="355.50" width="21.53" height="22.15" fill="#7dff82" />
<rect x="42.38" y="355.50" width="21.53" height="22.15" fill="#7dff82" />
<rect x="63.86" y="355.50" width="21.53" height="22.15" fill="#80ff80" />
<rect x="85.34" y="355.50" width="21.53" height="22.15" fill="#80ff80" />
<rect x="106.82" y="355.50" width="21.53" height="22.15" fill="#80ff80" />
<rect x="20.90" y="377.60" width="21.53" height="22.15" fill="#2effd1" />
<rect x="42.38" y="377.60" width="21.53" height="22.15" fill="#2effd1" />
<rect x="63.86" y="377.60" width="21.53" height="22.15" fill="#7aff85" />
<rect x="85.34" y="377.60" width="21.53" height="22.15" fill="#80ff80" />
<rect x="106.82" y="377.60" width="21.53" height="22.15" fill="#80ff80" />
<rect x="20.90" y="399.70" width="21.53" height="22.15" fill="#5cffa3" />
<rect x="42.38" y="399.70" width="21.53" height="22.15" fill="#66ff99" />
<rect x="63.86" y="399.70" width="21.53" height="22.15" fill="#7aff85" />
<rect x="85.34" y="399.70" width="21.53" height="22.15" fill="#80ff80" />
<rect x="106.82" y="399.70" width="21.53" height="22.15" fill="#80ff80" />
<rect x="20.90" y="421.80" width="21.53" height="22.15" fill="#70ff8f" />
<rect x="42.38" y="421.80" width="21.53" height="22.15" fill="#7dff82" />
<rect x="63.86" y="421.80" width="21.53" height="22.15" fill="#80ff80" />
<rect x="85.34" y="421.80" width="21.53" height="22.15" fill="#80ff80" />
<rect x="106.82" y="421.80" width="21.53" height="22.15" fill="#80ff80" />
<line x1="42.38" y1="355.50" x2="42.38" y2="443.90" stroke="#000000" stroke-width="0.7" opacity="0.6"/>
<line x1="63.86" y1="355.50" x2="63.86" y2="443.90" stroke="#000000" stroke-width="0.7" opacity="0.6"/>
<line x1="85.34" y1="355.50" x2="85.34" y2="443.90" stroke="#000000" stroke-width="0.7" opacity="0.6"/>
<line x1="106.82" y1="355.50" x2="106.82" y2="443.90" stroke="#000000" stroke-width="0.7" opacity="0.6"/>
<line x1="20.90" y1="377.60" x2="128.30" y2="377.60" stroke="#000000" stroke-width="0.7" opacity="0.6"/>
<line x1="20.90" y1="399.70" x2="128.30" y2="399.70" stroke="#000000" stroke-width="0.7" opacity="0.6"/>
<line x1="20.90" y1="421.80" x2="128.30" y2="421.80" stroke="#000000" stroke-width="0.7" opacity="0.6"/>
<text x="25.50" y="361.63" font-size="5.8" fill="#2a3340" opacity="0.6" dy="2.09" stroke="#2a3340" stroke-width="0.12">4</text>
<text x="25.70" y="369.04" font-size="3.0" fill="#2a3340" opacity="0.42" dy="1.08" stroke="#2a3340" stroke-width="0.1">n=3</text>
<text x="30.50" y="376.70" font-size="3.4" fill="#2a3340" opacity="0.42" dy="1.22" stroke="#2a3340" stroke-width="0.1">**</text>
<text x="46.98" y="361.63" font-size="5.8" fill="#2a3340" opacity="0.6" dy="2.09" stroke="#2a3340" stroke-width="0.12">6</text>
<text x="47.18" y="369.04" font-size="3.0" fill="#2a3340" opacity="0.42" dy="1.08" stroke="#2a3340" stroke-width="0.1">n=3</text>
<text x="68.46" y="361.63" font-size="5.8" fill="#2a3340" opacity="0.6" dy="2.09" stroke="#2a3340" stroke-width="0.12">3</text>
<text x="68.66" y="369.04" font-size="3.0" fill="#2a3340" opacity="0.42" dy="1.08" stroke="#2a3340" stroke-width="0.1">n=3</text>
<text x="73.46" y="376.70" font-size="3.4" fill="#2a3340" opacity="0.42" dy="1.22" stroke="#2a3340" stroke-width="0.1">**</text>
<text x="89.94" y="361.63" font-size="5.8" fill="#2a3340" opacity="0.6" dy="2.09" stroke="#2a3340" stroke-width="0.12">3</text>
<text x="90.14" y="369.04" font-size="3.0" fill="#2a3340" opacity="0.42" dy="1.08" stroke="#2a3340" stroke-width="0.1">n=3</text>
<text x="111.42" y="361.63" font-size="5.8" fill="#2a3340" opacity="0.6" dy="2.09" stroke="#2a3340" stroke-width="0.12">1</text>
<text x="111.62" y="369.04" font-size="3.0" fill="#2a3340" opacity="0.42" dy="1.08" stroke="#2a3340" stroke-width="0.1">n=3</text>
<text x="116.42" y="376.70" font-size="3.4" fill="#2a3340" opacity="0.42" dy="1.22" stroke="#2a3340" stroke-width="0.1">**</text>
<text x="25.50" y="383.73" font-size="5.8" fill="#2a3340" opacity="0.6" dy="2.09" stroke="#2a3340" stroke-width="0.12">9</text>
<text x="25.70" y="391.14" font-size="3.0" fill="#2a3340" opacity="0.42" dy="1.08" stroke="#2a3340" stroke-width="0.1">n=3</text>
<text x="46.98" y="383.73" font-size="5.8" fill="#2a3340" opacity="0.6" dy="2.09" stroke="#2a3340" stroke-width="0.12">6</text>
<text x="47.18" y="391.14" font-size="3.0" fill="#2a3340" opacity="0.42" dy="1.08" stroke="#2a3340" stroke-width="0.1">n=3</text>
<text x="51.98" y="398.80" font-size="3.4" fill="#2a3340" opacity="0.42" dy="1.22" stroke="#2a3340" stroke-width="0.1">**</text>
<text x="68.46" y="383.73" font-size="5.8" fill="#2a3340" opacity="0.6" dy="2.09" stroke="#2a3340" stroke-width="0.12">5</text>
<text x="68.66" y="391.14" font-size="3.0" fill="#2a3340" opacity="0.42" dy="1.08" stroke="#2a3340" stroke-width="0.1">n=3</text>
<text x="89.94" y="383.73" font-size="5.8" fill="#2a3340" opacity="0.6" dy="2.09" stroke="#2a3340" stroke-width="0.12">1</text>
<text x="90.14" y="391.14" font-size="3.0" fill="#2a3340" opacity="0.42" dy="1.08" stroke="#2a3340" stroke-width="0.1">n=3</text>
<text x="94.94" y="398.80" font-size="3.4" fill="#2a3340" opacity="0.42" dy="1.22" stroke="#2a3340" stroke-width="0.1">**</text>
<text x="111.42" y="383.73" font-size="5.8" fill="#2a3340" opacity="0.6" dy="2.09" stroke="#2a3340" stroke-width="0.12">-1</text>
<text x="111.62" y="391.14" font-size="3.0" fill="#2a3340" opacity="0.42" dy="1.08" stroke="#2a3340" stroke-width="0.1">n=3</text>
<text x="25.50" y="405.83" font-size="5.8" fill="#2a3340" opacity="0.6" dy="2.09" stroke="#2a3340" stroke-width="0.12">5</text>
<text x="25.70" y="413.24" font-size="3.0" fill="#2a3340" opacity="0.42" dy="1.08" stroke="#2a3340" stroke-width="0.1">n=3</text>
<text x="30.50" y="420.90" font-size="3.4" fill="#2a3340" opacity="0.42" dy="1.22" stroke="#2a3340" stroke-width="0.1">**</text>
<text x="46.98" y="405.83" font-size="5.8" fill="#2a3340" opacity="0.6" dy="2.09" stroke="#2a3340" stroke-width="0.12">4</text>
<text x="47.18" y="413.24" font-size="3.0" fill="#2a3340" opacity="0.42" dy="1.08" stroke="#2a3340" stroke-width="0.1">n=3</text>
<text x="68.46" y="405.83" font-size="5.8" fill="#2a3340" opacity="0.6" dy="2.09" stroke="#2a3340" stroke-width="0.12">2</text>
<text x="68.66" y="413.24" font-size="3.0" fill="#2a3340" opacity="0.42" dy="1.08" stroke="#2a3340" stroke-width="0.1">n=3</text>
<text x="73.46" y="420.90" font-size="3.4" fill="#2a3340" opacity="0.42" dy="1.22" stroke="#2a3340" stroke-width="0.1">**</text>
<text x="89.94" y="405.83" font-size="5.8" fill="#2a3340" opacity="0.6" dy="2.09" stroke="#2a3340" stroke-width="0.12">0</text>
<text x="90.14" y="413.24" font-size="3.0" fill="#2a3340" opacity="0.42" dy="1.08" stroke="#2a3340" stroke-width="0.1">n=3</text>
<text x="111.42" y="405.83" font-size="5.8" fill="#2a3340" opacity="0.6" dy="2.09" stroke="#2a3340" stroke-width="0.12">-2</text>
<text x="111.62" y="413.24" font-size="3.0" fill="#2a3340" opacity="0.42" dy="1.08" stroke="#2a3340" stroke-width="0.1">n=3</text>
<text x="116.42" y="420.90" font-size="3.4" fill="#2a3340" opacity="0.42" dy="1.22" stroke="#2a3340" stroke-width="0.1">**</text>
<text x="25.50" y="427.93" font-size="5.8" fill="#2a3340" opacity="0.6" dy="2.09" stroke="#2a3340" stroke-width="0.12">3</text>
<text x="25.70" y="435.34" font-size="3.0" fill="#2a3340" opacity="0.42" dy="1.08" stroke="#2a3340" stroke-width="0.1">n=3</text>
<text x="46.98" y="427.93" font-size="5.8" fill="#2a3340" opacity="0.6" dy="2.09" stroke="#2a3340" stroke-width="0.12">1</text>
<text x="47.18" y="435.34" font-size="3.0" fill="#2a3340" opacity="0.42" dy="1.08" stroke="#2a3340" stroke-width="0.1">n=3</text>
<text x="51.98" y="443.00" font-size="3.4" fill="#2a3340" opacity="0.42" dy="1.22" stroke="#2a3340" stroke-width="0.1">**</text>
<text x="68.46" y="427.93" font-size="5.8" fill="#2a3340" opacity="0.6" dy="2.09" stroke="#2a3340" stroke-width="0.12">0</text>
<text x="68.66" y="435.34" font-size="3.0" fill="#2a3340" opacity="0.42" dy="1.08" stroke="#2a3340" stroke-width="0.1">n=3</text>
<text x="89.94" y="427.93" font-size="5.8" fill="#2a3340" opacity="0.6" dy="2.09" stroke="#2a3340" stroke-width="0.12">-1</text>
<text x="90.14" y="435.34" font-size="3.0" fill="#2a3340" opacity="0.42" dy="1.08" stroke="#2a3340" stroke-width="0.1">n=3</text>
<text x="94.94" y="443.00" font-size="3.4" fill="#2a3340" opacity="0.42" dy="1.22" stroke="#2a3340" stroke-width="0.1">**</text>
<text x="111.42" y="427.93" font-size="5.8" fill="#2a3340" opacity="0.6" dy="2.09" stroke="#2a3340" stroke-width="0.12">-3</text>
<text x="111.62" y="435.34" font-size="3.0" fill="#2a3340" opacity="0.42" dy="1.08" stroke="#2a3340" stroke-width="0.1">n=3</text>
<rect x="132.20" y="355.50" width="7.30" height="88.40" fill="url(#jet)" />
<text x="144.80" y="376.27" font-size="5.3" text-anchor="middle" fill="#000" font-weight="bold" transform="rotate(-90 144.80 376.27)" dy="1.91" stroke="#000" stroke-width="0.18">Synergy</text>
<text x="144.80" y="418.71" font-size="5.3" text-anchor="middle" fill="#000" font-weight="bold" transform="rotate(-90 144.80 418.71)" dy="1.91" stroke="#000" stroke-width="0.18">Antagonism</text>
<text x="76.20" y="449.20" font-size="5.95" text-anchor="middle" dy="2.14" stroke="#1a1a1a" stroke-width="0.22">Bliss synergy and antagonism</text>
<text x="76.20" y="456.80" font-size="5.95" text-anchor="middle" dy="2.14" stroke="#1a1a1a" stroke-width="0.22">CDDP plus BEZ235</text>
<text x="267.50" y="343.20" font-size="6.6" text-anchor="middle" dy="2.38" stroke="#1a1a1a" stroke-width="0.22">BKM120 (µmol/L)</text>
<text x="210.00" y="347.70" font-size="6.45" text-anchor="end" dy="2.32" stroke="#1a1a1a" stroke-width="0.26"><tspan font-style="italic">N</tspan> = 3</text>
<text x="218.82" y="351.60" font-size="5.05" text-anchor="middle" dy="1.82" stroke="#1a1a1a" stroke-width="0.22">0.0625</text>
<text x="239.49" y="351.60" font-size="5.05" text-anchor="middle" dy="1.82" stroke="#1a1a1a" stroke-width="0.22">0.125</text>
<text x="260.16" y="351.60" font-size="5.05" text-anchor="middle" dy="1.82" stroke="#1a1a1a" stroke-width="0.22">0.25</text>
<text x="280.82" y="351.60" font-size="5.05" text-anchor="middle" dy="1.82" stroke="#1a1a1a" stroke-width="0.22">0.5</text>
<text x="301.49" y="351.60" font-size="5.05" text-anchor="middle" dy="1.82" stroke="#1a1a1a" stroke-width="0.22">1</text>
<text x="206.50" y="367.45" font-size="5.3" text-anchor="end" dy="1.91" stroke="#1a1a1a" stroke-width="0.22">2.5</text>
<text x="206.50" y="389.55" font-size="5.3" text-anchor="end" dy="1.91" stroke="#1a1a1a" stroke-width="0.22">5</text>
<text x="206.50" y="411.65" font-size="5.3" text-anchor="end" dy="1.91" stroke="#1a1a1a" stroke-width="0.22">10</text>
<text x="206.50" y="433.75" font-size="5.3" text-anchor="end" dy="1.91" stroke="#1a1a1a" stroke-width="0.22">20</text>
<text x="194.40" y="394.40" font-size="6.4" text-anchor="middle" transform="rotate(-90 194.40 394.40)" dy="2.30" stroke="#1a1a1a" stroke-width="0.22">CDDP (µmol/L)</text>
<rect x="208.00" y="356.40" width="21.49" height="22.15" fill="#0040ff" />
<rect x="229.44" y="356.40" width="21.49" height="22.15" fill="#0029ff" />
<rect x="250.88" y="356.40" width="21.49" height="22.15" fill="#0029ff" />
<rect x="272.32" y="356.40" width="21.49" height="22.15" fill="#0053ff" />
<rect x="293.76" y="356.40" width="21.49" height="22.15" fill="#0089ff" />
<rect x="208.00" y="378.50" width="21.49" height="22.15" fill="#005dff" />
<rect x="229.44" y="378.50" width="21.49" height="22.15" fill="#0053ff" />
<rect x="250.88" y="378.50" width="21.49" height="22.15" fill="#0067ff" />
<rect x="272.32" y="378.50" width="21.49" height="22.15" fill="#0091ff" />
<rect x="293.76" y="378.50" width="21.49" height="22.15" fill="#00a2ff" />
<rect x="208.00" y="400.60" width="21.49" height="22.15" fill="#00d7ff" />
<rect x="229.44" y="400.60" width="21.49" height="22.15" fill="#00c4ff" />
<rect x="250.88" y="400.60" width="21.49" height="22.15" fill="#00cdff" />
<rect x="272.32" y="400.60" width="21.49" height="22.15" fill="#00e5ff" />
<rect x="293.76" y="400.60" width="21.49" height="22.15" fill="#00faff" />
<rect x="208.00" y="422.70" width="21.49" height="22.15" fill="#42ffbd" />
<rect x="229.44" y="422.70" width="21.49" height="22.15" fill="#42ffbd" />
<rect x="250.88" y="422.70" width="21.49" height="22.15" fill="#4fffb0" />
<rect x="272.32" y="422.70" width="21.49" height="22.15" fill="#5cffa3" />
<rect x="293.76" y="422.70" width="21.49" height="22.15" fill="#66ff99" />
<line x1="229.44" y1="356.40" x2="229.44" y2="444.80" stroke="#000000" stroke-width="0.7" opacity="0.6"/>
<line x1="250.88" y1="356.40" x2="250.88" y2="444.80" stroke="#000000" stroke-width="0.7" opacity="0.6"/>
<line x1="272.32" y1="356.40" x2="272.32" y2="444.80" stroke="#000000" stroke-width="0.7" opacity="0.6"/>
<line x1="293.76" y1="356.40" x2="293.76" y2="444.80" stroke="#000000" stroke-width="0.7" opacity="0.6"/>
<line x1="208.00" y1="378.50" x2="315.20" y2="378.50" stroke="#000000" stroke-width="0.7" opacity="0.6"/>
<line x1="208.00" y1="400.60" x2="315.20" y2="400.60" stroke="#000000" stroke-width="0.7" opacity="0.6"/>
<line x1="208.00" y1="422.70" x2="315.20" y2="422.70" stroke="#000000" stroke-width="0.7" opacity="0.6"/>
<text x="212.60" y="362.53" font-size="5.8" fill="#a8bcff" opacity="0.5" dy="2.09" stroke="#a8bcff" stroke-width="0.12">33</text>
<text x="212.80" y="369.94" font-size="3.0" fill="#a8bcff" opacity="0.35" dy="1.08" stroke="#a8bcff" stroke-width="0.1">n=3</text>
<text x="217.60" y="377.60" font-size="3.4" fill="#a8bcff" opacity="0.35" dy="1.22" stroke="#a8bcff" stroke-width="0.1">**</text>
<text x="234.04" y="362.53" font-size="5.8" fill="#a8bcff" opacity="0.5" dy="2.09" stroke="#a8bcff" stroke-width="0.12">35</text>
<text x="234.24" y="369.94" font-size="3.0" fill="#a8bcff" opacity="0.35" dy="1.08" stroke="#a8bcff" stroke-width="0.1">n=3</text>
<text x="239.04" y="377.60" font-size="3.4" fill="#a8bcff" opacity="0.35" dy="1.22" stroke="#a8bcff" stroke-width="0.1">**</text>
<text x="255.48" y="362.53" font-size="5.8" fill="#a8bcff" opacity="0.5" dy="2.09" stroke="#a8bcff" stroke-width="0.12">35</text>
<text x="255.68" y="369.94" font-size="3.0" fill="#a8bcff" opacity="0.35" dy="1.08" stroke="#a8bcff" stroke-width="0.1">n=3</text>
<text x="260.48" y="377.60" font-size="3.4" fill="#a8bcff" opacity="0.35" dy="1.22" stroke="#a8bcff" stroke-width="0.1">**</text>
<text x="276.92" y="362.53" font-size="5.8" fill="#a8bcff" opacity="0.5" dy="2.09" stroke="#a8bcff" stroke-width="0.12">31</text>
<text x="277.12" y="369.94" font-size="3.0" fill="#a8bcff" opacity="0.35" dy="1.08" stroke="#a8bcff" stroke-width="0.1">n=3</text>
<text x="281.92" y="377.60" font-size="3.4" fill="#a8bcff" opacity="0.35" dy="1.22" stroke="#a8bcff" stroke-width="0.1">**</text>
<text x="298.36" y="362.53" font-size="5.8" fill="#2a55c8" opacity="0.28" dy="2.09" stroke="#2a55c8" stroke-width="0.12">25</text>
<text x="298.56" y="369.94" font-size="3.0" fill="#2a55c8" opacity="0.196" dy="1.08" stroke="#2a55c8" stroke-width="0.1">n=3</text>
<text x="303.36" y="377.60" font-size="3.4" fill="#2a55c8" opacity="0.196" dy="1.22" stroke="#2a55c8" stroke-width="0.1">**</text>
<text x="212.60" y="384.63" font-size="5.8" fill="#a8bcff" opacity="0.5" dy="2.09" stroke="#a8bcff" stroke-width="0.12">30</text>
<text x="212.80" y="392.04" font-size="3.0" fill="#a8bcff" opacity="0.35" dy="1.08" stroke="#a8bcff" stroke-width="0.1">n=3</text>
<text x="217.60" y="399.70" font-size="3.4" fill="#a8bcff" opacity="0.35" dy="1.22" stroke="#a8bcff" stroke-width="0.1">**</text>
<text x="234.04" y="384.63" font-size="5.8" fill="#a8bcff" opacity="0.5" dy="2.09" stroke="#a8bcff" stroke-width="0.12">31</text>
<text x="234.24" y="392.04" font-size="3.0" fill="#a8bcff" opacity="0.35" dy="1.08" stroke="#a8bcff" stroke-width="0.1">n=3</text>
<text x="239.04" y="399.70" font-size="3.4" fill="#a8bcff" opacity="0.35" dy="1.22" stroke="#a8bcff" stroke-width="0.1">**</text>
<text x="255.48" y="384.63" font-size="5.8" fill="#a8bcff" opacity="0.5" dy="2.09" stroke="#a8bcff" stroke-width="0.12">29</text>
<text x="255.68" y="392.04" font-size="3.0" fill="#a8bcff" opacity="0.35" dy="1.08" stroke="#a8bcff" stroke-width="0.1">n=3</text>
<text x="260.48" y="399.70" font-size="3.4" fill="#a8bcff" opacity="0.35" dy="1.22" stroke="#a8bcff" stroke-width="0.1">**</text>
<text x="276.92" y="384.63" font-size="5.8" fill="#2a55c8" opacity="0.28" dy="2.09" stroke="#2a55c8" stroke-width="0.12">24</text>
<text x="277.12" y="392.04" font-size="3.0" fill="#2a55c8" opacity="0.196" dy="1.08" stroke="#2a55c8" stroke-width="0.1">n=3</text>
<text x="281.92" y="399.70" font-size="3.4" fill="#2a55c8" opacity="0.196" dy="1.22" stroke="#2a55c8" stroke-width="0.1">**</text>
<text x="298.36" y="384.63" font-size="5.8" fill="#2a55c8" opacity="0.28" dy="2.09" stroke="#2a55c8" stroke-width="0.12">22</text>
<text x="298.56" y="392.04" font-size="3.0" fill="#2a55c8" opacity="0.196" dy="1.08" stroke="#2a55c8" stroke-width="0.1">n=3</text>
<text x="303.36" y="399.70" font-size="3.4" fill="#2a55c8" opacity="0.196" dy="1.22" stroke="#2a55c8" stroke-width="0.1">**</text>
<text x="212.60" y="406.73" font-size="5.8" fill="#1c4a8c" opacity="0.62" dy="2.09" stroke="#1c4a8c" stroke-width="0.12">16</text>
<text x="212.80" y="414.14" font-size="3.0" fill="#1c4a8c" opacity="0.434" dy="1.08" stroke="#1c4a8c" stroke-width="0.1">n=3</text>
<text x="217.60" y="421.80" font-size="3.4" fill="#1c4a8c" opacity="0.434" dy="1.22" stroke="#1c4a8c" stroke-width="0.1">**</text>
<text x="234.04" y="406.73" font-size="5.8" fill="#1c4a8c" opacity="0.62" dy="2.09" stroke="#1c4a8c" stroke-width="0.12">18</text>
<text x="234.24" y="414.14" font-size="3.0" fill="#1c4a8c" opacity="0.434" dy="1.08" stroke="#1c4a8c" stroke-width="0.1">n=3</text>
<text x="239.04" y="421.80" font-size="3.4" fill="#1c4a8c" opacity="0.434" dy="1.22" stroke="#1c4a8c" stroke-width="0.1">**</text>
<text x="255.48" y="406.73" font-size="5.8" fill="#1c4a8c" opacity="0.62" dy="2.09" stroke="#1c4a8c" stroke-width="0.12">17</text>
<text x="255.68" y="414.14" font-size="3.0" fill="#1c4a8c" opacity="0.434" dy="1.08" stroke="#1c4a8c" stroke-width="0.1">n=3</text>
<text x="260.48" y="421.80" font-size="3.4" fill="#1c4a8c" opacity="0.434" dy="1.22" stroke="#1c4a8c" stroke-width="0.1">**</text>
<text x="276.92" y="406.73" font-size="5.8" fill="#1c4a8c" opacity="0.62" dy="2.09" stroke="#1c4a8c" stroke-width="0.12">15</text>
<text x="277.12" y="414.14" font-size="3.0" fill="#1c4a8c" opacity="0.434" dy="1.08" stroke="#1c4a8c" stroke-width="0.1">n=3</text>
<text x="281.92" y="421.80" font-size="3.4" fill="#1c4a8c" opacity="0.434" dy="1.22" stroke="#1c4a8c" stroke-width="0.1">**</text>
<text x="298.36" y="406.73" font-size="5.8" fill="#1c4a8c" opacity="0.62" dy="2.09" stroke="#1c4a8c" stroke-width="0.12">13</text>
<text x="298.56" y="414.14" font-size="3.0" fill="#1c4a8c" opacity="0.434" dy="1.08" stroke="#1c4a8c" stroke-width="0.1">n=3</text>
<text x="303.36" y="421.80" font-size="3.4" fill="#1c4a8c" opacity="0.434" dy="1.22" stroke="#1c4a8c" stroke-width="0.1">**</text>
<text x="212.60" y="428.83" font-size="5.8" fill="#2a3340" opacity="0.6" dy="2.09" stroke="#2a3340" stroke-width="0.12">7</text>
<text x="212.80" y="436.24" font-size="3.0" fill="#2a3340" opacity="0.42" dy="1.08" stroke="#2a3340" stroke-width="0.1">n=3</text>
<text x="234.04" y="428.83" font-size="5.8" fill="#2a3340" opacity="0.6" dy="2.09" stroke="#2a3340" stroke-width="0.12">7</text>
<text x="234.24" y="436.24" font-size="3.0" fill="#2a3340" opacity="0.42" dy="1.08" stroke="#2a3340" stroke-width="0.1">n=3</text>
<text x="239.04" y="443.90" font-size="3.4" fill="#2a3340" opacity="0.42" dy="1.22" stroke="#2a3340" stroke-width="0.1">**</text>
<text x="255.48" y="428.83" font-size="5.8" fill="#2a3340" opacity="0.6" dy="2.09" stroke="#2a3340" stroke-width="0.12">6</text>
<text x="255.68" y="436.24" font-size="3.0" fill="#2a3340" opacity="0.42" dy="1.08" stroke="#2a3340" stroke-width="0.1">n=3</text>
<text x="276.92" y="428.83" font-size="5.8" fill="#2a3340" opacity="0.6" dy="2.09" stroke="#2a3340" stroke-width="0.12">5</text>
<text x="277.12" y="436.24" font-size="3.0" fill="#2a3340" opacity="0.42" dy="1.08" stroke="#2a3340" stroke-width="0.1">n=3</text>
<text x="281.92" y="443.90" font-size="3.4" fill="#2a3340" opacity="0.42" dy="1.22" stroke="#2a3340" stroke-width="0.1">**</text>
<text x="298.36" y="428.83" font-size="5.8" fill="#2a3340" opacity="0.6" dy="2.09" stroke="#2a3340" stroke-width="0.12">4</text>
<text x="298.56" y="436.24" font-size="3.0" fill="#2a3340" opacity="0.42" dy="1.08" stroke="#2a3340" stroke-width="0.1">n=3</text>
<rect x="318.50" y="356.40" width="7.30" height="88.40" fill="url(#jet)" />
<text x="331.10" y="377.17" font-size="5.3" text-anchor="middle" fill="#000" font-weight="bold" transform="rotate(-90 331.10 377.17)" dy="1.91" stroke="#000" stroke-width="0.18">Synergy</text>
<text x="331.10" y="419.61" font-size="5.3" text-anchor="middle" fill="#000" font-weight="bold" transform="rotate(-90 331.10 419.61)" dy="1.91" stroke="#000" stroke-width="0.18">Antagonism</text>
<text x="263.20" y="450.10" font-size="5.95" text-anchor="middle" dy="2.14" stroke="#1a1a1a" stroke-width="0.22">Bliss synergy and antagonism</text>
<text x="263.20" y="457.70" font-size="5.95" text-anchor="middle" dy="2.14" stroke="#1a1a1a" stroke-width="0.22">CDDP plus BKM120</text>
<text x="452.75" y="343.20" font-size="6.6" text-anchor="middle" dy="2.38" stroke="#1a1a1a" stroke-width="0.22">GSK2126458 (µmol/L)</text>
<text x="394.60" y="347.70" font-size="6.45" text-anchor="end" dy="2.32" stroke="#1a1a1a" stroke-width="0.26"><tspan font-style="italic">N</tspan> = 3</text>
<text x="404.00" y="351.60" font-size="5.05" text-anchor="middle" dy="1.82" stroke="#1a1a1a" stroke-width="0.22">0.00625</text>
<text x="424.63" y="351.60" font-size="5.05" text-anchor="middle" dy="1.82" stroke="#1a1a1a" stroke-width="0.22">0.0125</text>
<text x="445.26" y="351.60" font-size="5.05" text-anchor="middle" dy="1.82" stroke="#1a1a1a" stroke-width="0.22">0.025</text>
<text x="465.89" y="351.60" font-size="5.05" text-anchor="middle" dy="1.82" stroke="#1a1a1a" stroke-width="0.22">0.05</text>
<text x="486.52" y="351.60" font-size="5.05" text-anchor="middle" dy="1.82" stroke="#1a1a1a" stroke-width="0.22">0.1</text>
<text x="391.70" y="367.45" font-size="5.3" text-anchor="end" dy="1.91" stroke="#1a1a1a" stroke-width="0.22">2.5</text>
<text x="391.70" y="389.55" font-size="5.3" text-anchor="end" dy="1.91" stroke="#1a1a1a" stroke-width="0.22">5</text>
<text x="391.70" y="411.65" font-size="5.3" text-anchor="end" dy="1.91" stroke="#1a1a1a" stroke-width="0.22">10</text>
<text x="391.70" y="433.75" font-size="5.3" text-anchor="end" dy="1.91" stroke="#1a1a1a" stroke-width="0.22">20</text>
<text x="379.60" y="394.10" font-size="6.4" text-anchor="middle" transform="rotate(-90 379.60 394.10)" dy="2.30" stroke="#1a1a1a" stroke-width="0.22">CDDP (µmol/L)</text>
<rect x="393.20" y="356.40" width="21.45" height="22.15" fill="#0049ff" />
<rect x="414.60" y="356.40" width="21.45" height="22.15" fill="#0067ff" />
<rect x="436.00" y="356.40" width="21.45" height="22.15" fill="#0089ff" />
<rect x="457.40" y="356.40" width="21.45" height="22.15" fill="#00d7ff" />
<rect x="478.80" y="356.40" width="21.45" height="22.15" fill="#00faff" />
<rect x="393.20" y="378.50" width="21.45" height="22.15" fill="#0078ff" />
<rect x="414.60" y="378.50" width="21.45" height="22.15" fill="#0091ff" />
<rect x="436.00" y="378.50" width="21.45" height="22.15" fill="#009aff" />
<rect x="457.40" y="378.50" width="21.45" height="22.15" fill="#00d7ff" />
<rect x="478.80" y="378.50" width="21.45" height="22.15" fill="#0ffff0" />
<rect x="393.20" y="400.60" width="21.45" height="22.15" fill="#00e5ff" />
<rect x="414.60" y="400.60" width="21.45" height="22.15" fill="#00f0ff" />
<rect x="436.00" y="400.60" width="21.45" height="22.15" fill="#05fffa" />
<rect x="457.40" y="400.60" width="21.45" height="22.15" fill="#2effd1" />
<rect x="478.80" y="400.60" width="21.45" height="22.15" fill="#38ffc7" />
<rect x="393.20" y="422.70" width="21.45" height="22.15" fill="#42ffbd" />
<rect x="414.60" y="422.70" width="21.45" height="22.15" fill="#42ffbd" />
<rect x="436.00" y="422.70" width="21.45" height="22.15" fill="#5cffa3" />
<rect x="457.40" y="422.70" width="21.45" height="22.15" fill="#70ff8f" />
<rect x="478.80" y="422.70" width="21.45" height="22.15" fill="#7dff82" />
<line x1="414.60" y1="356.40" x2="414.60" y2="444.80" stroke="#000000" stroke-width="0.7" opacity="0.6"/>
<line x1="436.00" y1="356.40" x2="436.00" y2="444.80" stroke="#000000" stroke-width="0.7" opacity="0.6"/>
<line x1="457.40" y1="356.40" x2="457.40" y2="444.80" stroke="#000000" stroke-width="0.7" opacity="0.6"/>
<line x1="478.80" y1="356.40" x2="478.80" y2="444.80" stroke="#000000" stroke-width="0.7" opacity="0.6"/>
<line x1="393.20" y1="378.50" x2="500.20" y2="378.50" stroke="#000000" stroke-width="0.7" opacity="0.6"/>
<line x1="393.20" y1="400.60" x2="500.20" y2="400.60" stroke="#000000" stroke-width="0.7" opacity="0.6"/>
<line x1="393.20" y1="422.70" x2="500.20" y2="422.70" stroke="#000000" stroke-width="0.7" opacity="0.6"/>
<text x="397.80" y="362.53" font-size="5.8" fill="#a8bcff" opacity="0.5" dy="2.09" stroke="#a8bcff" stroke-width="0.12">32</text>
<text x="398.00" y="369.94" font-size="3.0" fill="#a8bcff" opacity="0.35" dy="1.08" stroke="#a8bcff" stroke-width="0.1">n=3</text>
<text x="402.80" y="377.60" font-size="3.4" fill="#a8bcff" opacity="0.35" dy="1.22" stroke="#a8bcff" stroke-width="0.1">**</text>
<text x="419.20" y="362.53" font-size="5.8" fill="#a8bcff" opacity="0.5" dy="2.09" stroke="#a8bcff" stroke-width="0.12">29</text>
<text x="419.40" y="369.94" font-size="3.0" fill="#a8bcff" opacity="0.35" dy="1.08" stroke="#a8bcff" stroke-width="0.1">n=3</text>
<text x="424.20" y="377.60" font-size="3.4" fill="#a8bcff" opacity="0.35" dy="1.22" stroke="#a8bcff" stroke-width="0.1">**</text>
<text x="440.60" y="362.53" font-size="5.8" fill="#2a55c8" opacity="0.28" dy="2.09" stroke="#2a55c8" stroke-width="0.12">25</text>
<text x="440.80" y="369.94" font-size="3.0" fill="#2a55c8" opacity="0.196" dy="1.08" stroke="#2a55c8" stroke-width="0.1">n=3</text>
<text x="445.60" y="377.60" font-size="3.4" fill="#2a55c8" opacity="0.196" dy="1.22" stroke="#2a55c8" stroke-width="0.1">**</text>
<text x="462.00" y="362.53" font-size="5.8" fill="#1c4a8c" opacity="0.62" dy="2.09" stroke="#1c4a8c" stroke-width="0.12">16</text>
<text x="462.20" y="369.94" font-size="3.0" fill="#1c4a8c" opacity="0.434" dy="1.08" stroke="#1c4a8c" stroke-width="0.1">n=3</text>
<text x="467.00" y="377.60" font-size="3.4" fill="#1c4a8c" opacity="0.434" dy="1.22" stroke="#1c4a8c" stroke-width="0.1">**</text>
<text x="483.40" y="362.53" font-size="5.8" fill="#1c4a8c" opacity="0.62" dy="2.09" stroke="#1c4a8c" stroke-width="0.12">13</text>
<text x="483.60" y="369.94" font-size="3.0" fill="#1c4a8c" opacity="0.434" dy="1.08" stroke="#1c4a8c" stroke-width="0.1">n=3</text>
<text x="488.40" y="377.60" font-size="3.4" fill="#1c4a8c" opacity="0.434" dy="1.22" stroke="#1c4a8c" stroke-width="0.1">**</text>
<text x="397.80" y="384.63" font-size="5.8" fill="#a8bcff" opacity="0.5" dy="2.09" stroke="#a8bcff" stroke-width="0.12">27</text>
<text x="398.00" y="392.04" font-size="3.0" fill="#a8bcff" opacity="0.35" dy="1.08" stroke="#a8bcff" stroke-width="0.1">n=3</text>
<text x="402.80" y="399.70" font-size="3.4" fill="#a8bcff" opacity="0.35" dy="1.22" stroke="#a8bcff" stroke-width="0.1">**</text>
<text x="419.20" y="384.63" font-size="5.8" fill="#2a55c8" opacity="0.28" dy="2.09" stroke="#2a55c8" stroke-width="0.12">24</text>
<text x="419.40" y="392.04" font-size="3.0" fill="#2a55c8" opacity="0.196" dy="1.08" stroke="#2a55c8" stroke-width="0.1">n=3</text>
<text x="424.20" y="399.70" font-size="3.4" fill="#2a55c8" opacity="0.196" dy="1.22" stroke="#2a55c8" stroke-width="0.1">**</text>
<text x="440.60" y="384.63" font-size="5.8" fill="#2a55c8" opacity="0.28" dy="2.09" stroke="#2a55c8" stroke-width="0.12">23</text>
<text x="440.80" y="392.04" font-size="3.0" fill="#2a55c8" opacity="0.196" dy="1.08" stroke="#2a55c8" stroke-width="0.1">n=3</text>
<text x="445.60" y="399.70" font-size="3.4" fill="#2a55c8" opacity="0.196" dy="1.22" stroke="#2a55c8" stroke-width="0.1">**</text>
<text x="462.00" y="384.63" font-size="5.8" fill="#1c4a8c" opacity="0.62" dy="2.09" stroke="#1c4a8c" stroke-width="0.12">16</text>
<text x="462.20" y="392.04" font-size="3.0" fill="#1c4a8c" opacity="0.434" dy="1.08" stroke="#1c4a8c" stroke-width="0.1">n=3</text>
<text x="467.00" y="399.70" font-size="3.4" fill="#1c4a8c" opacity="0.434" dy="1.22" stroke="#1c4a8c" stroke-width="0.1">**</text>
<text x="483.40" y="384.63" font-size="5.8" fill="#1c4a8c" opacity="0.62" dy="2.09" stroke="#1c4a8c" stroke-width="0.12">11</text>
<text x="483.60" y="392.04" font-size="3.0" fill="#1c4a8c" opacity="0.434" dy="1.08" stroke="#1c4a8c" stroke-width="0.1">n=3</text>
<text x="488.40" y="399.70" font-size="3.4" fill="#1c4a8c" opacity="0.434" dy="1.22" stroke="#1c4a8c" stroke-width="0.1">**</text>
<text x="397.80" y="406.73" font-size="5.8" fill="#1c4a8c" opacity="0.62" dy="2.09" stroke="#1c4a8c" stroke-width="0.12">15</text>
<text x="398.00" y="414.14" font-size="3.0" fill="#1c4a8c" opacity="0.434" dy="1.08" stroke="#1c4a8c" stroke-width="0.1">n=3</text>
<text x="402.80" y="421.80" font-size="3.4" fill="#1c4a8c" opacity="0.434" dy="1.22" stroke="#1c4a8c" stroke-width="0.1">**</text>
<text x="419.20" y="406.73" font-size="5.8" fill="#1c4a8c" opacity="0.62" dy="2.09" stroke="#1c4a8c" stroke-width="0.12">14</text>
<text x="419.40" y="414.14" font-size="3.0" fill="#1c4a8c" opacity="0.434" dy="1.08" stroke="#1c4a8c" stroke-width="0.1">n=3</text>
<text x="424.20" y="421.80" font-size="3.4" fill="#1c4a8c" opacity="0.434" dy="1.22" stroke="#1c4a8c" stroke-width="0.1">**</text>
<text x="440.60" y="406.73" font-size="5.8" fill="#1c4a8c" opacity="0.62" dy="2.09" stroke="#1c4a8c" stroke-width="0.12">12</text>
<text x="440.80" y="414.14" font-size="3.0" fill="#1c4a8c" opacity="0.434" dy="1.08" stroke="#1c4a8c" stroke-width="0.1">n=3</text>
<text x="445.60" y="421.80" font-size="3.4" fill="#1c4a8c" opacity="0.434" dy="1.22" stroke="#1c4a8c" stroke-width="0.1">**</text>
<text x="462.00" y="406.73" font-size="5.8" fill="#2a3340" opacity="0.6" dy="2.09" stroke="#2a3340" stroke-width="0.12">9</text>
<text x="462.20" y="414.14" font-size="3.0" fill="#2a3340" opacity="0.42" dy="1.08" stroke="#2a3340" stroke-width="0.1">n=3</text>
<text x="483.40" y="406.73" font-size="5.8" fill="#2a3340" opacity="0.6" dy="2.09" stroke="#2a3340" stroke-width="0.12">8</text>
<text x="483.60" y="414.14" font-size="3.0" fill="#2a3340" opacity="0.42" dy="1.08" stroke="#2a3340" stroke-width="0.1">n=3</text>
<text x="488.40" y="421.80" font-size="3.4" fill="#2a3340" opacity="0.42" dy="1.22" stroke="#2a3340" stroke-width="0.1">**</text>
<text x="397.80" y="428.83" font-size="5.8" fill="#2a3340" opacity="0.6" dy="2.09" stroke="#2a3340" stroke-width="0.12">7</text>
<text x="398.00" y="436.24" font-size="3.0" fill="#2a3340" opacity="0.42" dy="1.08" stroke="#2a3340" stroke-width="0.1">n=3</text>
<text x="419.20" y="428.83" font-size="5.8" fill="#2a3340" opacity="0.6" dy="2.09" stroke="#2a3340" stroke-width="0.12">7</text>
<text x="419.40" y="436.24" font-size="3.0" fill="#2a3340" opacity="0.42" dy="1.08" stroke="#2a3340" stroke-width="0.1">n=3</text>
<text x="424.20" y="443.90" font-size="3.4" fill="#2a3340" opacity="0.42" dy="1.22" stroke="#2a3340" stroke-width="0.1">**</text>
<text x="440.60" y="428.83" font-size="5.8" fill="#2a3340" opacity="0.6" dy="2.09" stroke="#2a3340" stroke-width="0.12">5</text>
<text x="440.80" y="436.24" font-size="3.0" fill="#2a3340" opacity="0.42" dy="1.08" stroke="#2a3340" stroke-width="0.1">n=3</text>
<text x="462.00" y="428.83" font-size="5.8" fill="#2a3340" opacity="0.6" dy="2.09" stroke="#2a3340" stroke-width="0.12">3</text>
<text x="462.20" y="436.24" font-size="3.0" fill="#2a3340" opacity="0.42" dy="1.08" stroke="#2a3340" stroke-width="0.1">n=3</text>
<text x="467.00" y="443.90" font-size="3.4" fill="#2a3340" opacity="0.42" dy="1.22" stroke="#2a3340" stroke-width="0.1">**</text>
<text x="483.40" y="428.83" font-size="5.8" fill="#2a3340" opacity="0.6" dy="2.09" stroke="#2a3340" stroke-width="0.12">1</text>
<text x="483.60" y="436.24" font-size="3.0" fill="#2a3340" opacity="0.42" dy="1.08" stroke="#2a3340" stroke-width="0.1">n=3</text>
<rect x="503.80" y="356.40" width="7.30" height="88.40" fill="url(#jet)" />
<text x="516.40" y="377.17" font-size="5.3" text-anchor="middle" fill="#000" font-weight="bold" transform="rotate(-90 516.40 377.17)" dy="1.91" stroke="#000" stroke-width="0.18">Synergy</text>
<text x="516.40" y="419.61" font-size="5.3" text-anchor="middle" fill="#000" font-weight="bold" transform="rotate(-90 516.40 419.61)" dy="1.91" stroke="#000" stroke-width="0.18">Antagonism</text>
<text x="448.30" y="450.10" font-size="5.95" text-anchor="middle" dy="2.14" stroke="#1a1a1a" stroke-width="0.22">Bliss synergy and antagonism</text>
<text x="448.30" y="457.70" font-size="5.95" text-anchor="middle" dy="2.14" stroke="#1a1a1a" stroke-width="0.22">CDDP plus GSK2126458</text>
<text x="80.80" y="473.10" font-size="6.6" text-anchor="middle" dy="2.38" stroke="#1a1a1a" stroke-width="0.22">BEZ235 (µmol/L)</text>
<text x="21.70" y="477.60" font-size="6.45" text-anchor="end" dy="2.32" stroke="#1a1a1a" stroke-width="0.26"><tspan font-style="italic">N</tspan> = 3</text>
<text x="31.74" y="481.50" font-size="5.05" text-anchor="middle" dy="1.82" stroke="#1a1a1a" stroke-width="0.22">0.125</text>
<text x="52.45" y="481.50" font-size="5.05" text-anchor="middle" dy="1.82" stroke="#1a1a1a" stroke-width="0.22">0.25</text>
<text x="73.15" y="481.50" font-size="5.05" text-anchor="middle" dy="1.82" stroke="#1a1a1a" stroke-width="0.22">0.5</text>
<text x="93.86" y="481.50" font-size="5.05" text-anchor="middle" dy="1.82" stroke="#1a1a1a" stroke-width="0.22">1</text>
<text x="114.57" y="481.50" font-size="5.05" text-anchor="middle" dy="1.82" stroke="#1a1a1a" stroke-width="0.22">2</text>
<text x="19.40" y="497.32" font-size="5.3" text-anchor="end" dy="1.91" stroke="#1a1a1a" stroke-width="0.22">10</text>
<text x="19.40" y="519.38" font-size="5.3" text-anchor="end" dy="1.91" stroke="#1a1a1a" stroke-width="0.22">20</text>
<text x="19.40" y="541.42" font-size="5.3" text-anchor="end" dy="1.91" stroke="#1a1a1a" stroke-width="0.22">40</text>
<text x="19.40" y="563.48" font-size="5.3" text-anchor="end" dy="1.91" stroke="#1a1a1a" stroke-width="0.22">80</text>
<text x="7.80" y="529.00" font-size="6.4" text-anchor="middle" transform="rotate(-90 7.80 529.00)" dy="2.30" stroke="#1a1a1a" stroke-width="0.22">CDDP (µmol/L)</text>
<rect x="20.90" y="486.30" width="21.53" height="22.10" fill="#38ffc7" />
<rect x="42.38" y="486.30" width="21.53" height="22.10" fill="#2effd1" />
<rect x="63.86" y="486.30" width="21.53" height="22.10" fill="#00f0ff" />
<rect x="85.34" y="486.30" width="21.53" height="22.10" fill="#00b2ff" />
<rect x="106.82" y="486.30" width="21.53" height="22.10" fill="#009aff" />
<rect x="20.90" y="508.35" width="21.53" height="22.10" fill="#38ffc7" />
<rect x="42.38" y="508.35" width="21.53" height="22.10" fill="#00f0ff" />
<rect x="63.86" y="508.35" width="21.53" height="22.10" fill="#00d7ff" />
<rect x="85.34" y="508.35" width="21.53" height="22.10" fill="#00cdff" />
<rect x="106.82" y="508.35" width="21.53" height="22.10" fill="#00c4ff" />
<rect x="20.90" y="530.40" width="21.53" height="22.10" fill="#05fffa" />
<rect x="42.38" y="530.40" width="21.53" height="22.10" fill="#00f0ff" />
<rect x="63.86" y="530.40" width="21.53" height="22.10" fill="#00f0ff" />
<rect x="85.34" y="530.40" width="21.53" height="22.10" fill="#00e5ff" />
<rect x="106.82" y="530.40" width="21.53" height="22.10" fill="#00e5ff" />
<rect x="20.90" y="552.45" width="21.53" height="22.10" fill="#00c4ff" />
<rect x="42.38" y="552.45" width="21.53" height="22.10" fill="#00cdff" />
<rect x="63.86" y="552.45" width="21.53" height="22.10" fill="#00d7ff" />
<rect x="85.34" y="552.45" width="21.53" height="22.10" fill="#00e5ff" />
<rect x="106.82" y="552.45" width="21.53" height="22.10" fill="#05fffa" />
<line x1="42.38" y1="486.30" x2="42.38" y2="574.50" stroke="#000000" stroke-width="0.7" opacity="0.6"/>
<line x1="63.86" y1="486.30" x2="63.86" y2="574.50" stroke="#000000" stroke-width="0.7" opacity="0.6"/>
<line x1="85.34" y1="486.30" x2="85.34" y2="574.50" stroke="#000000" stroke-width="0.7" opacity="0.6"/>
<line x1="106.82" y1="486.30" x2="106.82" y2="574.50" stroke="#000000" stroke-width="0.7" opacity="0.6"/>
<line x1="20.90" y1="508.35" x2="128.30" y2="508.35" stroke="#000000" stroke-width="0.7" opacity="0.6"/>
<line x1="20.90" y1="530.40" x2="128.30" y2="530.40" stroke="#000000" stroke-width="0.7" opacity="0.6"/>
<line x1="20.90" y1="552.45" x2="128.30" y2="552.45" stroke="#000000" stroke-width="0.7" opacity="0.6"/>
<text x="25.50" y="492.42" font-size="5.8" fill="#2a3340" opacity="0.6" dy="2.09" stroke="#2a3340" stroke-width="0.12">8</text>
<text x="25.70" y="499.82" font-size="3.0" fill="#2a3340" opacity="0.42" dy="1.08" stroke="#2a3340" stroke-width="0.1">n=3</text>
<text x="30.50" y="507.45" font-size="3.4" fill="#2a3340" opacity="0.42" dy="1.22" stroke="#2a3340" stroke-width="0.1">**</text>
<text x="46.98" y="492.42" font-size="5.8" fill="#2a3340" opacity="0.6" dy="2.09" stroke="#2a3340" stroke-width="0.12">9</text>
<text x="47.18" y="499.82" font-size="3.0" fill="#2a3340" opacity="0.42" dy="1.08" stroke="#2a3340" stroke-width="0.1">n=3</text>
<text x="68.46" y="492.42" font-size="5.8" fill="#1c4a8c" opacity="0.62" dy="2.09" stroke="#1c4a8c" stroke-width="0.12">14</text>
<text x="68.66" y="499.82" font-size="3.0" fill="#1c4a8c" opacity="0.434" dy="1.08" stroke="#1c4a8c" stroke-width="0.1">n=3</text>
<text x="73.46" y="507.45" font-size="3.4" fill="#1c4a8c" opacity="0.434" dy="1.22" stroke="#1c4a8c" stroke-width="0.1">**</text>
<text x="89.94" y="492.42" font-size="5.8" fill="#1c4a8c" opacity="0.62" dy="2.09" stroke="#1c4a8c" stroke-width="0.12">20</text>
<text x="90.14" y="499.82" font-size="3.0" fill="#1c4a8c" opacity="0.434" dy="1.08" stroke="#1c4a8c" stroke-width="0.1">n=3</text>
<text x="94.94" y="507.45" font-size="3.4" fill="#1c4a8c" opacity="0.434" dy="1.22" stroke="#1c4a8c" stroke-width="0.1">**</text>
<text x="111.42" y="492.42" font-size="5.8" fill="#2a55c8" opacity="0.28" dy="2.09" stroke="#2a55c8" stroke-width="0.12">23</text>
<text x="111.62" y="499.82" font-size="3.0" fill="#2a55c8" opacity="0.196" dy="1.08" stroke="#2a55c8" stroke-width="0.1">n=3</text>
<text x="116.42" y="507.45" font-size="3.4" fill="#2a55c8" opacity="0.196" dy="1.22" stroke="#2a55c8" stroke-width="0.1">**</text>
<text x="25.50" y="514.47" font-size="5.8" fill="#2a3340" opacity="0.6" dy="2.09" stroke="#2a3340" stroke-width="0.12">8</text>
<text x="25.70" y="521.87" font-size="3.0" fill="#2a3340" opacity="0.42" dy="1.08" stroke="#2a3340" stroke-width="0.1">n=3</text>
<text x="46.98" y="514.47" font-size="5.8" fill="#1c4a8c" opacity="0.62" dy="2.09" stroke="#1c4a8c" stroke-width="0.12">14</text>
<text x="47.18" y="521.87" font-size="3.0" fill="#1c4a8c" opacity="0.434" dy="1.08" stroke="#1c4a8c" stroke-width="0.1">n=3</text>
<text x="51.98" y="529.50" font-size="3.4" fill="#1c4a8c" opacity="0.434" dy="1.22" stroke="#1c4a8c" stroke-width="0.1">**</text>
<text x="68.46" y="514.47" font-size="5.8" fill="#1c4a8c" opacity="0.62" dy="2.09" stroke="#1c4a8c" stroke-width="0.12">16</text>
<text x="68.66" y="521.87" font-size="3.0" fill="#1c4a8c" opacity="0.434" dy="1.08" stroke="#1c4a8c" stroke-width="0.1">n=3</text>
<text x="73.46" y="529.50" font-size="3.4" fill="#1c4a8c" opacity="0.434" dy="1.22" stroke="#1c4a8c" stroke-width="0.1">**</text>
<text x="89.94" y="514.47" font-size="5.8" fill="#1c4a8c" opacity="0.62" dy="2.09" stroke="#1c4a8c" stroke-width="0.12">17</text>
<text x="90.14" y="521.87" font-size="3.0" fill="#1c4a8c" opacity="0.434" dy="1.08" stroke="#1c4a8c" stroke-width="0.1">n=3</text>
<text x="94.94" y="529.50" font-size="3.4" fill="#1c4a8c" opacity="0.434" dy="1.22" stroke="#1c4a8c" stroke-width="0.1">**</text>
<text x="111.42" y="514.47" font-size="5.8" fill="#1c4a8c" opacity="0.62" dy="2.09" stroke="#1c4a8c" stroke-width="0.12">18</text>
<text x="111.62" y="521.87" font-size="3.0" fill="#1c4a8c" opacity="0.434" dy="1.08" stroke="#1c4a8c" stroke-width="0.1">n=3</text>
<text x="116.42" y="529.50" font-size="3.4" fill="#1c4a8c" opacity="0.434" dy="1.22" stroke="#1c4a8c" stroke-width="0.1">**</text>
<text x="25.50" y="536.52" font-size="5.8" fill="#1c4a8c" opacity="0.62" dy="2.09" stroke="#1c4a8c" stroke-width="0.12">12</text>
<text x="25.70" y="543.92" font-size="3.0" fill="#1c4a8c" opacity="0.434" dy="1.08" stroke="#1c4a8c" stroke-width="0.1">n=3</text>
<text x="30.50" y="551.55" font-size="3.4" fill="#1c4a8c" opacity="0.434" dy="1.22" stroke="#1c4a8c" stroke-width="0.1">**</text>
<text x="46.98" y="536.52" font-size="5.8" fill="#1c4a8c" opacity="0.62" dy="2.09" stroke="#1c4a8c" stroke-width="0.12">14</text>
<text x="47.18" y="543.92" font-size="3.0" fill="#1c4a8c" opacity="0.434" dy="1.08" stroke="#1c4a8c" stroke-width="0.1">n=3</text>
<text x="51.98" y="551.55" font-size="3.4" fill="#1c4a8c" opacity="0.434" dy="1.22" stroke="#1c4a8c" stroke-width="0.1">**</text>
<text x="68.46" y="536.52" font-size="5.8" fill="#1c4a8c" opacity="0.62" dy="2.09" stroke="#1c4a8c" stroke-width="0.12">14</text>
<text x="68.66" y="543.92" font-size="3.0" fill="#1c4a8c" opacity="0.434" dy="1.08" stroke="#1c4a8c" stroke-width="0.1">n=3</text>
<text x="73.46" y="551.55" font-size="3.4" fill="#1c4a8c" opacity="0.434" dy="1.22" stroke="#1c4a8c" stroke-width="0.1">**</text>
<text x="89.94" y="536.52" font-size="5.8" fill="#1c4a8c" opacity="0.62" dy="2.09" stroke="#1c4a8c" stroke-width="0.12">15</text>
<text x="90.14" y="543.92" font-size="3.0" fill="#1c4a8c" opacity="0.434" dy="1.08" stroke="#1c4a8c" stroke-width="0.1">n=3</text>
<text x="94.94" y="551.55" font-size="3.4" fill="#1c4a8c" opacity="0.434" dy="1.22" stroke="#1c4a8c" stroke-width="0.1">**</text>
<text x="111.42" y="536.52" font-size="5.8" fill="#1c4a8c" opacity="0.62" dy="2.09" stroke="#1c4a8c" stroke-width="0.12">15</text>
<text x="111.62" y="543.92" font-size="3.0" fill="#1c4a8c" opacity="0.434" dy="1.08" stroke="#1c4a8c" stroke-width="0.1">n=3</text>
<text x="116.42" y="551.55" font-size="3.4" fill="#1c4a8c" opacity="0.434" dy="1.22" stroke="#1c4a8c" stroke-width="0.1">**</text>
<text x="25.50" y="558.57" font-size="5.8" fill="#1c4a8c" opacity="0.62" dy="2.09" stroke="#1c4a8c" stroke-width="0.12">18</text>
<text x="25.70" y="565.97" font-size="3.0" fill="#1c4a8c" opacity="0.434" dy="1.08" stroke="#1c4a8c" stroke-width="0.1">n=3</text>
<text x="30.50" y="573.60" font-size="3.4" fill="#1c4a8c" opacity="0.434" dy="1.22" stroke="#1c4a8c" stroke-width="0.1">**</text>
<text x="46.98" y="558.57" font-size="5.8" fill="#1c4a8c" opacity="0.62" dy="2.09" stroke="#1c4a8c" stroke-width="0.12">17</text>
<text x="47.18" y="565.97" font-size="3.0" fill="#1c4a8c" opacity="0.434" dy="1.08" stroke="#1c4a8c" stroke-width="0.1">n=3</text>
<text x="51.98" y="573.60" font-size="3.4" fill="#1c4a8c" opacity="0.434" dy="1.22" stroke="#1c4a8c" stroke-width="0.1">**</text>
<text x="68.46" y="558.57" font-size="5.8" fill="#1c4a8c" opacity="0.62" dy="2.09" stroke="#1c4a8c" stroke-width="0.12">16</text>
<text x="68.66" y="565.97" font-size="3.0" fill="#1c4a8c" opacity="0.434" dy="1.08" stroke="#1c4a8c" stroke-width="0.1">n=3</text>
<text x="73.46" y="573.60" font-size="3.4" fill="#1c4a8c" opacity="0.434" dy="1.22" stroke="#1c4a8c" stroke-width="0.1">**</text>
<text x="89.94" y="558.57" font-size="5.8" fill="#1c4a8c" opacity="0.62" dy="2.09" stroke="#1c4a8c" stroke-width="0.12">15</text>
<text x="90.14" y="565.97" font-size="3.0" fill="#1c4a8c" opacity="0.434" dy="1.08" stroke="#1c4a8c" stroke-width="0.1">n=3</text>
<text x="94.94" y="573.60" font-size="3.4" fill="#1c4a8c" opacity="0.434" dy="1.22" stroke="#1c4a8c" stroke-width="0.1">**</text>
<text x="111.42" y="558.57" font-size="5.8" fill="#1c4a8c" opacity="0.62" dy="2.09" stroke="#1c4a8c" stroke-width="0.12">12</text>
<text x="111.62" y="565.97" font-size="3.0" fill="#1c4a8c" opacity="0.434" dy="1.08" stroke="#1c4a8c" stroke-width="0.1">n=3</text>
<text x="116.42" y="573.60" font-size="3.4" fill="#1c4a8c" opacity="0.434" dy="1.22" stroke="#1c4a8c" stroke-width="0.1">**</text>
<rect x="132.20" y="486.30" width="7.30" height="88.20" fill="url(#jet)" />
<text x="144.80" y="507.03" font-size="5.3" text-anchor="middle" fill="#000" font-weight="bold" transform="rotate(-90 144.80 507.03)" dy="1.91" stroke="#000" stroke-width="0.18">Synergy</text>
<text x="144.80" y="549.36" font-size="5.3" text-anchor="middle" fill="#000" font-weight="bold" transform="rotate(-90 144.80 549.36)" dy="1.91" stroke="#000" stroke-width="0.18">Antagonism</text>
<text x="76.20" y="579.80" font-size="5.95" text-anchor="middle" dy="2.14" stroke="#1a1a1a" stroke-width="0.22">Bliss synergy and antagonism</text>
<text x="76.20" y="587.40" font-size="5.95" text-anchor="middle" dy="2.14" stroke="#1a1a1a" stroke-width="0.22">CDDP plus BEZ235</text>
<text x="267.50" y="474.00" font-size="6.6" text-anchor="middle" dy="2.38" stroke="#1a1a1a" stroke-width="0.22">BKM120 (µmol/L)</text>
<text x="209.40" y="478.50" font-size="6.45" text-anchor="end" dy="2.32" stroke="#1a1a1a" stroke-width="0.26"><tspan font-style="italic">N</tspan> = 3</text>
<text x="218.82" y="482.40" font-size="5.05" text-anchor="middle" dy="1.82" stroke="#1a1a1a" stroke-width="0.22">0.5</text>
<text x="239.49" y="482.40" font-size="5.05" text-anchor="middle" dy="1.82" stroke="#1a1a1a" stroke-width="0.22">1</text>
<text x="260.16" y="482.40" font-size="5.05" text-anchor="middle" dy="1.82" stroke="#1a1a1a" stroke-width="0.22">2</text>
<text x="280.82" y="482.40" font-size="5.05" text-anchor="middle" dy="1.82" stroke="#1a1a1a" stroke-width="0.22">4</text>
<text x="301.49" y="482.40" font-size="5.05" text-anchor="middle" dy="1.82" stroke="#1a1a1a" stroke-width="0.22">8</text>
<text x="206.50" y="498.22" font-size="5.3" text-anchor="end" dy="1.91" stroke="#1a1a1a" stroke-width="0.22">10</text>
<text x="206.50" y="520.27" font-size="5.3" text-anchor="end" dy="1.91" stroke="#1a1a1a" stroke-width="0.22">20</text>
<text x="206.50" y="542.32" font-size="5.3" text-anchor="end" dy="1.91" stroke="#1a1a1a" stroke-width="0.22">40</text>
<text x="206.50" y="564.38" font-size="5.3" text-anchor="end" dy="1.91" stroke="#1a1a1a" stroke-width="0.22">80</text>
<text x="195.20" y="525.40" font-size="6.4" text-anchor="middle" transform="rotate(-90 195.20 525.40)" dy="2.30" stroke="#1a1a1a" stroke-width="0.22">CDDP (µmol/L)</text>
<rect x="208.00" y="487.20" width="21.49" height="22.10" fill="#99ff66" />
<rect x="229.44" y="487.20" width="21.49" height="22.10" fill="#ffbd00" />
<rect x="250.88" y="487.20" width="21.49" height="22.10" fill="#ff8f00" />
<rect x="272.32" y="487.20" width="21.49" height="22.10" fill="#fff500" />
<rect x="293.76" y="487.20" width="21.49" height="22.10" fill="#7dff82" />
<rect x="208.00" y="509.25" width="21.49" height="22.10" fill="#7aff85" />
<rect x="229.44" y="509.25" width="21.49" height="22.10" fill="#ffd600" />
<rect x="250.88" y="509.25" width="21.49" height="22.10" fill="#ffbd00" />
<rect x="272.32" y="509.25" width="21.49" height="22.10" fill="#ebff14" />
<rect x="293.76" y="509.25" width="21.49" height="22.10" fill="#70ff8f" />
<rect x="208.00" y="531.30" width="21.49" height="22.10" fill="#7dff82" />
<rect x="229.44" y="531.30" width="21.49" height="22.10" fill="#85ff7a" />
<rect x="250.88" y="531.30" width="21.49" height="22.10" fill="#85ff7a" />
<rect x="272.32" y="531.30" width="21.49" height="22.10" fill="#80ff80" />
<rect x="293.76" y="531.30" width="21.49" height="22.10" fill="#4fffb0" />
<rect x="208.00" y="553.35" width="21.49" height="22.10" fill="#0091ff" />
<rect x="229.44" y="553.35" width="21.49" height="22.10" fill="#2effd1" />
<rect x="250.88" y="553.35" width="21.49" height="22.10" fill="#66ff99" />
<rect x="272.32" y="553.35" width="21.49" height="22.10" fill="#66ff99" />
<rect x="293.76" y="553.35" width="21.49" height="22.10" fill="#66ff99" />
<line x1="229.44" y1="487.20" x2="229.44" y2="575.40" stroke="#000000" stroke-width="0.7" opacity="0.6"/>
<line x1="250.88" y1="487.20" x2="250.88" y2="575.40" stroke="#000000" stroke-width="0.7" opacity="0.6"/>
<line x1="272.32" y1="487.20" x2="272.32" y2="575.40" stroke="#000000" stroke-width="0.7" opacity="0.6"/>
<line x1="293.76" y1="487.20" x2="293.76" y2="575.40" stroke="#000000" stroke-width="0.7" opacity="0.6"/>
<line x1="208.00" y1="509.25" x2="315.20" y2="509.25" stroke="#000000" stroke-width="0.7" opacity="0.6"/>
<line x1="208.00" y1="531.30" x2="315.20" y2="531.30" stroke="#000000" stroke-width="0.7" opacity="0.6"/>
<line x1="208.00" y1="553.35" x2="315.20" y2="553.35" stroke="#000000" stroke-width="0.7" opacity="0.6"/>
<text x="212.60" y="493.32" font-size="5.8" fill="#2a3340" opacity="0.6" dy="2.09" stroke="#2a3340" stroke-width="0.12">-3</text>
<text x="212.80" y="500.72" font-size="3.0" fill="#2a3340" opacity="0.42" dy="1.08" stroke="#2a3340" stroke-width="0.1">n=3</text>
<text x="217.60" y="508.35" font-size="3.4" fill="#2a3340" opacity="0.42" dy="1.22" stroke="#2a3340" stroke-width="0.1">**</text>
<text x="234.04" y="493.32" font-size="5.8" fill="#2a3340" opacity="0.6" dy="2.09" stroke="#2a3340" stroke-width="0.12">-17</text>
<text x="234.24" y="500.72" font-size="3.0" fill="#2a3340" opacity="0.42" dy="1.08" stroke="#2a3340" stroke-width="0.1">n=3</text>
<text x="255.48" y="493.32" font-size="5.8" fill="#2a3340" opacity="0.6" dy="2.09" stroke="#2a3340" stroke-width="0.12">-21</text>
<text x="255.68" y="500.72" font-size="3.0" fill="#2a3340" opacity="0.42" dy="1.08" stroke="#2a3340" stroke-width="0.1">n=3</text>
<text x="260.48" y="508.35" font-size="3.4" fill="#2a3340" opacity="0.42" dy="1.22" stroke="#2a3340" stroke-width="0.1">**</text>
<text x="276.92" y="493.32" font-size="5.8" fill="#2a3340" opacity="0.6" dy="2.09" stroke="#2a3340" stroke-width="0.12">-12</text>
<text x="277.12" y="500.72" font-size="3.0" fill="#2a3340" opacity="0.42" dy="1.08" stroke="#2a3340" stroke-width="0.1">n=3</text>
<text x="298.36" y="493.32" font-size="5.8" fill="#2a3340" opacity="0.6" dy="2.09" stroke="#2a3340" stroke-width="0.12">1</text>
<text x="298.56" y="500.72" font-size="3.0" fill="#2a3340" opacity="0.42" dy="1.08" stroke="#2a3340" stroke-width="0.1">n=3</text>
<text x="303.36" y="508.35" font-size="3.4" fill="#2a3340" opacity="0.42" dy="1.22" stroke="#2a3340" stroke-width="0.1">**</text>
<text x="212.60" y="515.37" font-size="5.8" fill="#2a3340" opacity="0.6" dy="2.09" stroke="#2a3340" stroke-width="0.12">2</text>
<text x="212.80" y="522.77" font-size="3.0" fill="#2a3340" opacity="0.42" dy="1.08" stroke="#2a3340" stroke-width="0.1">n=3</text>
<text x="234.04" y="515.37" font-size="5.8" fill="#2a3340" opacity="0.6" dy="2.09" stroke="#2a3340" stroke-width="0.12">-15</text>
<text x="234.24" y="522.77" font-size="3.0" fill="#2a3340" opacity="0.42" dy="1.08" stroke="#2a3340" stroke-width="0.1">n=3</text>
<text x="239.04" y="530.40" font-size="3.4" fill="#2a3340" opacity="0.42" dy="1.22" stroke="#2a3340" stroke-width="0.1">**</text>
<text x="255.48" y="515.37" font-size="5.8" fill="#2a3340" opacity="0.6" dy="2.09" stroke="#2a3340" stroke-width="0.12">-17</text>
<text x="255.68" y="522.77" font-size="3.0" fill="#2a3340" opacity="0.42" dy="1.08" stroke="#2a3340" stroke-width="0.1">n=3</text>
<text x="276.92" y="515.37" font-size="5.8" fill="#2a3340" opacity="0.6" dy="2.09" stroke="#2a3340" stroke-width="0.12">-9</text>
<text x="277.12" y="522.77" font-size="3.0" fill="#2a3340" opacity="0.42" dy="1.08" stroke="#2a3340" stroke-width="0.1">n=3</text>
<text x="281.92" y="530.40" font-size="3.4" fill="#2a3340" opacity="0.42" dy="1.22" stroke="#2a3340" stroke-width="0.1">**</text>
<text x="298.36" y="515.37" font-size="5.8" fill="#2a3340" opacity="0.6" dy="2.09" stroke="#2a3340" stroke-width="0.12">3</text>
<text x="298.56" y="522.77" font-size="3.0" fill="#2a3340" opacity="0.42" dy="1.08" stroke="#2a3340" stroke-width="0.1">n=3</text>
<text x="212.60" y="537.42" font-size="5.8" fill="#2a3340" opacity="0.6" dy="2.09" stroke="#2a3340" stroke-width="0.12">7</text>
<text x="212.80" y="544.82" font-size="3.0" fill="#2a3340" opacity="0.42" dy="1.08" stroke="#2a3340" stroke-width="0.1">n=3</text>
<text x="217.60" y="552.45" font-size="3.4" fill="#2a3340" opacity="0.42" dy="1.22" stroke="#2a3340" stroke-width="0.1">**</text>
<text x="234.04" y="537.42" font-size="5.8" fill="#2a3340" opacity="0.6" dy="2.09" stroke="#2a3340" stroke-width="0.12">-6</text>
<text x="234.24" y="544.82" font-size="3.0" fill="#2a3340" opacity="0.42" dy="1.08" stroke="#2a3340" stroke-width="0.1">n=3</text>
<text x="255.48" y="537.42" font-size="5.8" fill="#2a3340" opacity="0.6" dy="2.09" stroke="#2a3340" stroke-width="0.12">-7</text>
<text x="255.68" y="544.82" font-size="3.0" fill="#2a3340" opacity="0.42" dy="1.08" stroke="#2a3340" stroke-width="0.1">n=3</text>
<text x="260.48" y="552.45" font-size="3.4" fill="#2a3340" opacity="0.42" dy="1.22" stroke="#2a3340" stroke-width="0.1">**</text>
<text x="276.92" y="537.42" font-size="5.8" fill="#2a3340" opacity="0.6" dy="2.09" stroke="#2a3340" stroke-width="0.12">0</text>
<text x="277.12" y="544.82" font-size="3.0" fill="#2a3340" opacity="0.42" dy="1.08" stroke="#2a3340" stroke-width="0.1">n=3</text>
<text x="298.36" y="537.42" font-size="5.8" fill="#2a3340" opacity="0.6" dy="2.09" stroke="#2a3340" stroke-width="0.12">6</text>
<text x="298.56" y="544.82" font-size="3.0" fill="#2a3340" opacity="0.42" dy="1.08" stroke="#2a3340" stroke-width="0.1">n=3</text>
<text x="303.36" y="552.45" font-size="3.4" fill="#2a3340" opacity="0.42" dy="1.22" stroke="#2a3340" stroke-width="0.1">**</text>
<text x="212.60" y="559.47" font-size="5.8" fill="#2a55c8" opacity="0.28" dy="2.09" stroke="#2a55c8" stroke-width="0.12">24</text>
<text x="212.80" y="566.87" font-size="3.0" fill="#2a55c8" opacity="0.196" dy="1.08" stroke="#2a55c8" stroke-width="0.1">n=3</text>
<text x="217.60" y="574.50" font-size="3.4" fill="#2a55c8" opacity="0.196" dy="1.22" stroke="#2a55c8" stroke-width="0.1">**</text>
<text x="234.04" y="559.47" font-size="5.8" fill="#2a3340" opacity="0.6" dy="2.09" stroke="#2a3340" stroke-width="0.12">9</text>
<text x="234.24" y="566.87" font-size="3.0" fill="#2a3340" opacity="0.42" dy="1.08" stroke="#2a3340" stroke-width="0.1">n=3</text>
<text x="239.04" y="574.50" font-size="3.4" fill="#2a3340" opacity="0.42" dy="1.22" stroke="#2a3340" stroke-width="0.1">**</text>
<text x="255.48" y="559.47" font-size="5.8" fill="#2a3340" opacity="0.6" dy="2.09" stroke="#2a3340" stroke-width="0.12">4</text>
<text x="255.68" y="566.87" font-size="3.0" fill="#2a3340" opacity="0.42" dy="1.08" stroke="#2a3340" stroke-width="0.1">n=3</text>
<text x="276.92" y="559.47" font-size="5.8" fill="#2a3340" opacity="0.6" dy="2.09" stroke="#2a3340" stroke-width="0.12">4</text>
<text x="277.12" y="566.87" font-size="3.0" fill="#2a3340" opacity="0.42" dy="1.08" stroke="#2a3340" stroke-width="0.1">n=3</text>
<text x="281.92" y="574.50" font-size="3.4" fill="#2a3340" opacity="0.42" dy="1.22" stroke="#2a3340" stroke-width="0.1">**</text>
<text x="298.36" y="559.47" font-size="5.8" fill="#2a3340" opacity="0.6" dy="2.09" stroke="#2a3340" stroke-width="0.12">4</text>
<text x="298.56" y="566.87" font-size="3.0" fill="#2a3340" opacity="0.42" dy="1.08" stroke="#2a3340" stroke-width="0.1">n=3</text>
<rect x="318.50" y="487.20" width="7.30" height="88.20" fill="url(#jet)" />
<text x="331.10" y="507.93" font-size="5.3" text-anchor="middle" fill="#000" font-weight="bold" transform="rotate(-90 331.10 507.93)" dy="1.91" stroke="#000" stroke-width="0.18">Synergy</text>
<text x="331.10" y="550.26" font-size="5.3" text-anchor="middle" fill="#000" font-weight="bold" transform="rotate(-90 331.10 550.26)" dy="1.91" stroke="#000" stroke-width="0.18">Antagonism</text>
<text x="263.20" y="580.70" font-size="5.95" text-anchor="middle" dy="2.14" stroke="#1a1a1a" stroke-width="0.22">Bliss synergy and antagonism</text>
<text x="263.20" y="588.30" font-size="5.95" text-anchor="middle" dy="2.14" stroke="#1a1a1a" stroke-width="0.22">CDDP plus BKM120</text>
<text x="452.75" y="474.00" font-size="6.6" text-anchor="middle" dy="2.38" stroke="#1a1a1a" stroke-width="0.22">GSK2126458 (µmol/L)</text>
<text x="394.20" y="478.50" font-size="6.45" text-anchor="end" dy="2.32" stroke="#1a1a1a" stroke-width="0.26"><tspan font-style="italic">N</tspan> = 3</text>
<text x="404.00" y="482.40" font-size="5.05" text-anchor="middle" dy="1.82" stroke="#1a1a1a" stroke-width="0.22">0.00625</text>
<text x="424.63" y="482.40" font-size="5.05" text-anchor="middle" dy="1.82" stroke="#1a1a1a" stroke-width="0.22">0.0125</text>
<text x="445.26" y="482.40" font-size="5.05" text-anchor="middle" dy="1.82" stroke="#1a1a1a" stroke-width="0.22">0.025</text>
<text x="465.89" y="482.40" font-size="5.05" text-anchor="middle" dy="1.82" stroke="#1a1a1a" stroke-width="0.22">0.05</text>
<text x="486.52" y="482.40" font-size="5.05" text-anchor="middle" dy="1.82" stroke="#1a1a1a" stroke-width="0.22">0.1</text>
<text x="391.70" y="498.22" font-size="5.3" text-anchor="end" dy="1.91" stroke="#1a1a1a" stroke-width="0.22">10</text>
<text x="391.70" y="520.27" font-size="5.3" text-anchor="end" dy="1.91" stroke="#1a1a1a" stroke-width="0.22">20</text>
<text x="391.70" y="542.32" font-size="5.3" text-anchor="end" dy="1.91" stroke="#1a1a1a" stroke-width="0.22">40</text>
<text x="391.70" y="564.38" font-size="5.3" text-anchor="end" dy="1.91" stroke="#1a1a1a" stroke-width="0.22">80</text>
<text x="380.20" y="527.80" font-size="6.4" text-anchor="middle" transform="rotate(-90 380.20 527.80)" dy="2.30" stroke="#1a1a1a" stroke-width="0.22">CDDP (µmol/L)</text>
<rect x="393.20" y="487.20" width="21.45" height="22.10" fill="#00cdff" />
<rect x="414.60" y="487.20" width="21.45" height="22.10" fill="#00e5ff" />
<rect x="436.00" y="487.20" width="21.45" height="22.10" fill="#1fffe0" />
<rect x="457.40" y="487.20" width="21.45" height="22.10" fill="#38ffc7" />
<rect x="478.80" y="487.20" width="21.45" height="22.10" fill="#42ffbd" />
<rect x="393.20" y="509.25" width="21.45" height="22.10" fill="#00faff" />
<rect x="414.60" y="509.25" width="21.45" height="22.10" fill="#00faff" />
<rect x="436.00" y="509.25" width="21.45" height="22.10" fill="#2effd1" />
<rect x="457.40" y="509.25" width="21.45" height="22.10" fill="#38ffc7" />
<rect x="478.80" y="509.25" width="21.45" height="22.10" fill="#42ffbd" />
<rect x="393.20" y="531.30" width="21.45" height="22.10" fill="#00f0ff" />
<rect x="414.60" y="531.30" width="21.45" height="22.10" fill="#00e5ff" />
<rect x="436.00" y="531.30" width="21.45" height="22.10" fill="#05fffa" />
<rect x="457.40" y="531.30" width="21.45" height="22.10" fill="#1fffe0" />
<rect x="478.80" y="531.30" width="21.45" height="22.10" fill="#2effd1" />
<rect x="393.20" y="553.35" width="21.45" height="22.10" fill="#00a2ff" />
<rect x="414.60" y="553.35" width="21.45" height="22.10" fill="#00b2ff" />
<rect x="436.00" y="553.35" width="21.45" height="22.10" fill="#00e5ff" />
<rect x="457.40" y="553.35" width="21.45" height="22.10" fill="#1fffe0" />
<rect x="478.80" y="553.35" width="21.45" height="22.10" fill="#42ffbd" />
<line x1="414.60" y1="487.20" x2="414.60" y2="575.40" stroke="#000000" stroke-width="0.7" opacity="0.6"/>
<line x1="436.00" y1="487.20" x2="436.00" y2="575.40" stroke="#000000" stroke-width="0.7" opacity="0.6"/>
<line x1="457.40" y1="487.20" x2="457.40" y2="575.40" stroke="#000000" stroke-width="0.7" opacity="0.6"/>
<line x1="478.80" y1="487.20" x2="478.80" y2="575.40" stroke="#000000" stroke-width="0.7" opacity="0.6"/>
<line x1="393.20" y1="509.25" x2="500.20" y2="509.25" stroke="#000000" stroke-width="0.7" opacity="0.6"/>
<line x1="393.20" y1="531.30" x2="500.20" y2="531.30" stroke="#000000" stroke-width="0.7" opacity="0.6"/>
<line x1="393.20" y1="553.35" x2="500.20" y2="553.35" stroke="#000000" stroke-width="0.7" opacity="0.6"/>
<text x="397.80" y="493.32" font-size="5.8" fill="#1c4a8c" opacity="0.62" dy="2.09" stroke="#1c4a8c" stroke-width="0.12">17</text>
<text x="398.00" y="500.72" font-size="3.0" fill="#1c4a8c" opacity="0.434" dy="1.08" stroke="#1c4a8c" stroke-width="0.1">n=3</text>
<text x="402.80" y="508.35" font-size="3.4" fill="#1c4a8c" opacity="0.434" dy="1.22" stroke="#1c4a8c" stroke-width="0.1">**</text>
<text x="419.20" y="493.32" font-size="5.8" fill="#1c4a8c" opacity="0.62" dy="2.09" stroke="#1c4a8c" stroke-width="0.12">15</text>
<text x="419.40" y="500.72" font-size="3.0" fill="#1c4a8c" opacity="0.434" dy="1.08" stroke="#1c4a8c" stroke-width="0.1">n=3</text>
<text x="424.20" y="508.35" font-size="3.4" fill="#1c4a8c" opacity="0.434" dy="1.22" stroke="#1c4a8c" stroke-width="0.1">**</text>
<text x="440.60" y="493.32" font-size="5.8" fill="#1c4a8c" opacity="0.62" dy="2.09" stroke="#1c4a8c" stroke-width="0.12">10</text>
<text x="440.80" y="500.72" font-size="3.0" fill="#1c4a8c" opacity="0.434" dy="1.08" stroke="#1c4a8c" stroke-width="0.1">n=3</text>
<text x="445.60" y="508.35" font-size="3.4" fill="#1c4a8c" opacity="0.434" dy="1.22" stroke="#1c4a8c" stroke-width="0.1">**</text>
<text x="462.00" y="493.32" font-size="5.8" fill="#2a3340" opacity="0.6" dy="2.09" stroke="#2a3340" stroke-width="0.12">8</text>
<text x="462.20" y="500.72" font-size="3.0" fill="#2a3340" opacity="0.42" dy="1.08" stroke="#2a3340" stroke-width="0.1">n=3</text>
<text x="483.40" y="493.32" font-size="5.8" fill="#2a3340" opacity="0.6" dy="2.09" stroke="#2a3340" stroke-width="0.12">7</text>
<text x="483.60" y="500.72" font-size="3.0" fill="#2a3340" opacity="0.42" dy="1.08" stroke="#2a3340" stroke-width="0.1">n=3</text>
<text x="488.40" y="508.35" font-size="3.4" fill="#2a3340" opacity="0.42" dy="1.22" stroke="#2a3340" stroke-width="0.1">**</text>
<text x="397.80" y="515.37" font-size="5.8" fill="#1c4a8c" opacity="0.62" dy="2.09" stroke="#1c4a8c" stroke-width="0.12">13</text>
<text x="398.00" y="522.77" font-size="3.0" fill="#1c4a8c" opacity="0.434" dy="1.08" stroke="#1c4a8c" stroke-width="0.1">n=3</text>
<text x="402.80" y="530.40" font-size="3.4" fill="#1c4a8c" opacity="0.434" dy="1.22" stroke="#1c4a8c" stroke-width="0.1">**</text>
<text x="419.20" y="515.37" font-size="5.8" fill="#1c4a8c" opacity="0.62" dy="2.09" stroke="#1c4a8c" stroke-width="0.12">13</text>
<text x="419.40" y="522.77" font-size="3.0" fill="#1c4a8c" opacity="0.434" dy="1.08" stroke="#1c4a8c" stroke-width="0.1">n=3</text>
<text x="424.20" y="530.40" font-size="3.4" fill="#1c4a8c" opacity="0.434" dy="1.22" stroke="#1c4a8c" stroke-width="0.1">**</text>
<text x="440.60" y="515.37" font-size="5.8" fill="#2a3340" opacity="0.6" dy="2.09" stroke="#2a3340" stroke-width="0.12">9</text>
<text x="440.80" y="522.77" font-size="3.0" fill="#2a3340" opacity="0.42" dy="1.08" stroke="#2a3340" stroke-width="0.1">n=3</text>
<text x="462.00" y="515.37" font-size="5.8" fill="#2a3340" opacity="0.6" dy="2.09" stroke="#2a3340" stroke-width="0.12">8</text>
<text x="462.20" y="522.77" font-size="3.0" fill="#2a3340" opacity="0.42" dy="1.08" stroke="#2a3340" stroke-width="0.1">n=3</text>
<text x="467.00" y="530.40" font-size="3.4" fill="#2a3340" opacity="0.42" dy="1.22" stroke="#2a3340" stroke-width="0.1">**</text>
<text x="483.40" y="515.37" font-size="5.8" fill="#2a3340" opacity="0.6" dy="2.09" stroke="#2a3340" stroke-width="0.12">7</text>
<text x="483.60" y="522.77" font-size="3.0" fill="#2a3340" opacity="0.42" dy="1.08" stroke="#2a3340" stroke-width="0.1">n=3</text>
<text x="397.80" y="537.42" font-size="5.8" fill="#1c4a8c" opacity="0.62" dy="2.09" stroke="#1c4a8c" stroke-width="0.12">14</text>
<text x="398.00" y="544.82" font-size="3.0" fill="#1c4a8c" opacity="0.434" dy="1.08" stroke="#1c4a8c" stroke-width="0.1">n=3</text>
<text x="402.80" y="552.45" font-size="3.4" fill="#1c4a8c" opacity="0.434" dy="1.22" stroke="#1c4a8c" stroke-width="0.1">**</text>
<text x="419.20" y="537.42" font-size="5.8" fill="#1c4a8c" opacity="0.62" dy="2.09" stroke="#1c4a8c" stroke-width="0.12">15</text>
<text x="419.40" y="544.82" font-size="3.0" fill="#1c4a8c" opacity="0.434" dy="1.08" stroke="#1c4a8c" stroke-width="0.1">n=3</text>
<text x="424.20" y="552.45" font-size="3.4" fill="#1c4a8c" opacity="0.434" dy="1.22" stroke="#1c4a8c" stroke-width="0.1">**</text>
<text x="440.60" y="537.42" font-size="5.8" fill="#1c4a8c" opacity="0.62" dy="2.09" stroke="#1c4a8c" stroke-width="0.12">12</text>
<text x="440.80" y="544.82" font-size="3.0" fill="#1c4a8c" opacity="0.434" dy="1.08" stroke="#1c4a8c" stroke-width="0.1">n=3</text>
<text x="445.60" y="552.45" font-size="3.4" fill="#1c4a8c" opacity="0.434" dy="1.22" stroke="#1c4a8c" stroke-width="0.1">**</text>
<text x="462.00" y="537.42" font-size="5.8" fill="#1c4a8c" opacity="0.62" dy="2.09" stroke="#1c4a8c" stroke-width="0.12">10</text>
<text x="462.20" y="544.82" font-size="3.0" fill="#1c4a8c" opacity="0.434" dy="1.08" stroke="#1c4a8c" stroke-width="0.1">n=3</text>
<text x="483.40" y="537.42" font-size="5.8" fill="#2a3340" opacity="0.6" dy="2.09" stroke="#2a3340" stroke-width="0.12">9</text>
<text x="483.60" y="544.82" font-size="3.0" fill="#2a3340" opacity="0.42" dy="1.08" stroke="#2a3340" stroke-width="0.1">n=3</text>
<text x="488.40" y="552.45" font-size="3.4" fill="#2a3340" opacity="0.42" dy="1.22" stroke="#2a3340" stroke-width="0.1">**</text>
<text x="397.80" y="559.47" font-size="5.8" fill="#2a55c8" opacity="0.28" dy="2.09" stroke="#2a55c8" stroke-width="0.12">22</text>
<text x="398.00" y="566.87" font-size="3.0" fill="#2a55c8" opacity="0.196" dy="1.08" stroke="#2a55c8" stroke-width="0.1">n=3</text>
<text x="402.80" y="574.50" font-size="3.4" fill="#2a55c8" opacity="0.196" dy="1.22" stroke="#2a55c8" stroke-width="0.1">**</text>
<text x="419.20" y="559.47" font-size="5.8" fill="#1c4a8c" opacity="0.62" dy="2.09" stroke="#1c4a8c" stroke-width="0.12">20</text>
<text x="419.40" y="566.87" font-size="3.0" fill="#1c4a8c" opacity="0.434" dy="1.08" stroke="#1c4a8c" stroke-width="0.1">n=3</text>
<text x="424.20" y="574.50" font-size="3.4" fill="#1c4a8c" opacity="0.434" dy="1.22" stroke="#1c4a8c" stroke-width="0.1">**</text>
<text x="440.60" y="559.47" font-size="5.8" fill="#1c4a8c" opacity="0.62" dy="2.09" stroke="#1c4a8c" stroke-width="0.12">15</text>
<text x="440.80" y="566.87" font-size="3.0" fill="#1c4a8c" opacity="0.434" dy="1.08" stroke="#1c4a8c" stroke-width="0.1">n=3</text>
<text x="445.60" y="574.50" font-size="3.4" fill="#1c4a8c" opacity="0.434" dy="1.22" stroke="#1c4a8c" stroke-width="0.1">**</text>
<text x="462.00" y="559.47" font-size="5.8" fill="#1c4a8c" opacity="0.62" dy="2.09" stroke="#1c4a8c" stroke-width="0.12">10</text>
<text x="462.20" y="566.87" font-size="3.0" fill="#1c4a8c" opacity="0.434" dy="1.08" stroke="#1c4a8c" stroke-width="0.1">n=3</text>
<text x="467.00" y="574.50" font-size="3.4" fill="#1c4a8c" opacity="0.434" dy="1.22" stroke="#1c4a8c" stroke-width="0.1">**</text>
<text x="483.40" y="559.47" font-size="5.8" fill="#2a3340" opacity="0.6" dy="2.09" stroke="#2a3340" stroke-width="0.12">7</text>
<text x="483.60" y="566.87" font-size="3.0" fill="#2a3340" opacity="0.42" dy="1.08" stroke="#2a3340" stroke-width="0.1">n=3</text>
<rect x="503.80" y="487.20" width="7.30" height="88.20" fill="url(#jet)" />
<text x="516.40" y="507.93" font-size="5.3" text-anchor="middle" fill="#000" font-weight="bold" transform="rotate(-90 516.40 507.93)" dy="1.91" stroke="#000" stroke-width="0.18">Synergy</text>
<text x="516.40" y="550.26" font-size="5.3" text-anchor="middle" fill="#000" font-weight="bold" transform="rotate(-90 516.40 550.26)" dy="1.91" stroke="#000" stroke-width="0.18">Antagonism</text>
<text x="448.30" y="580.70" font-size="5.95" text-anchor="middle" dy="2.14" stroke="#1a1a1a" stroke-width="0.22">Bliss synergy and antagonism</text>
<text x="448.30" y="588.30" font-size="5.95" text-anchor="middle" dy="2.14" stroke="#1a1a1a" stroke-width="0.22">CDDP plus GSK2126458</text>
</svg>
</body></html>
